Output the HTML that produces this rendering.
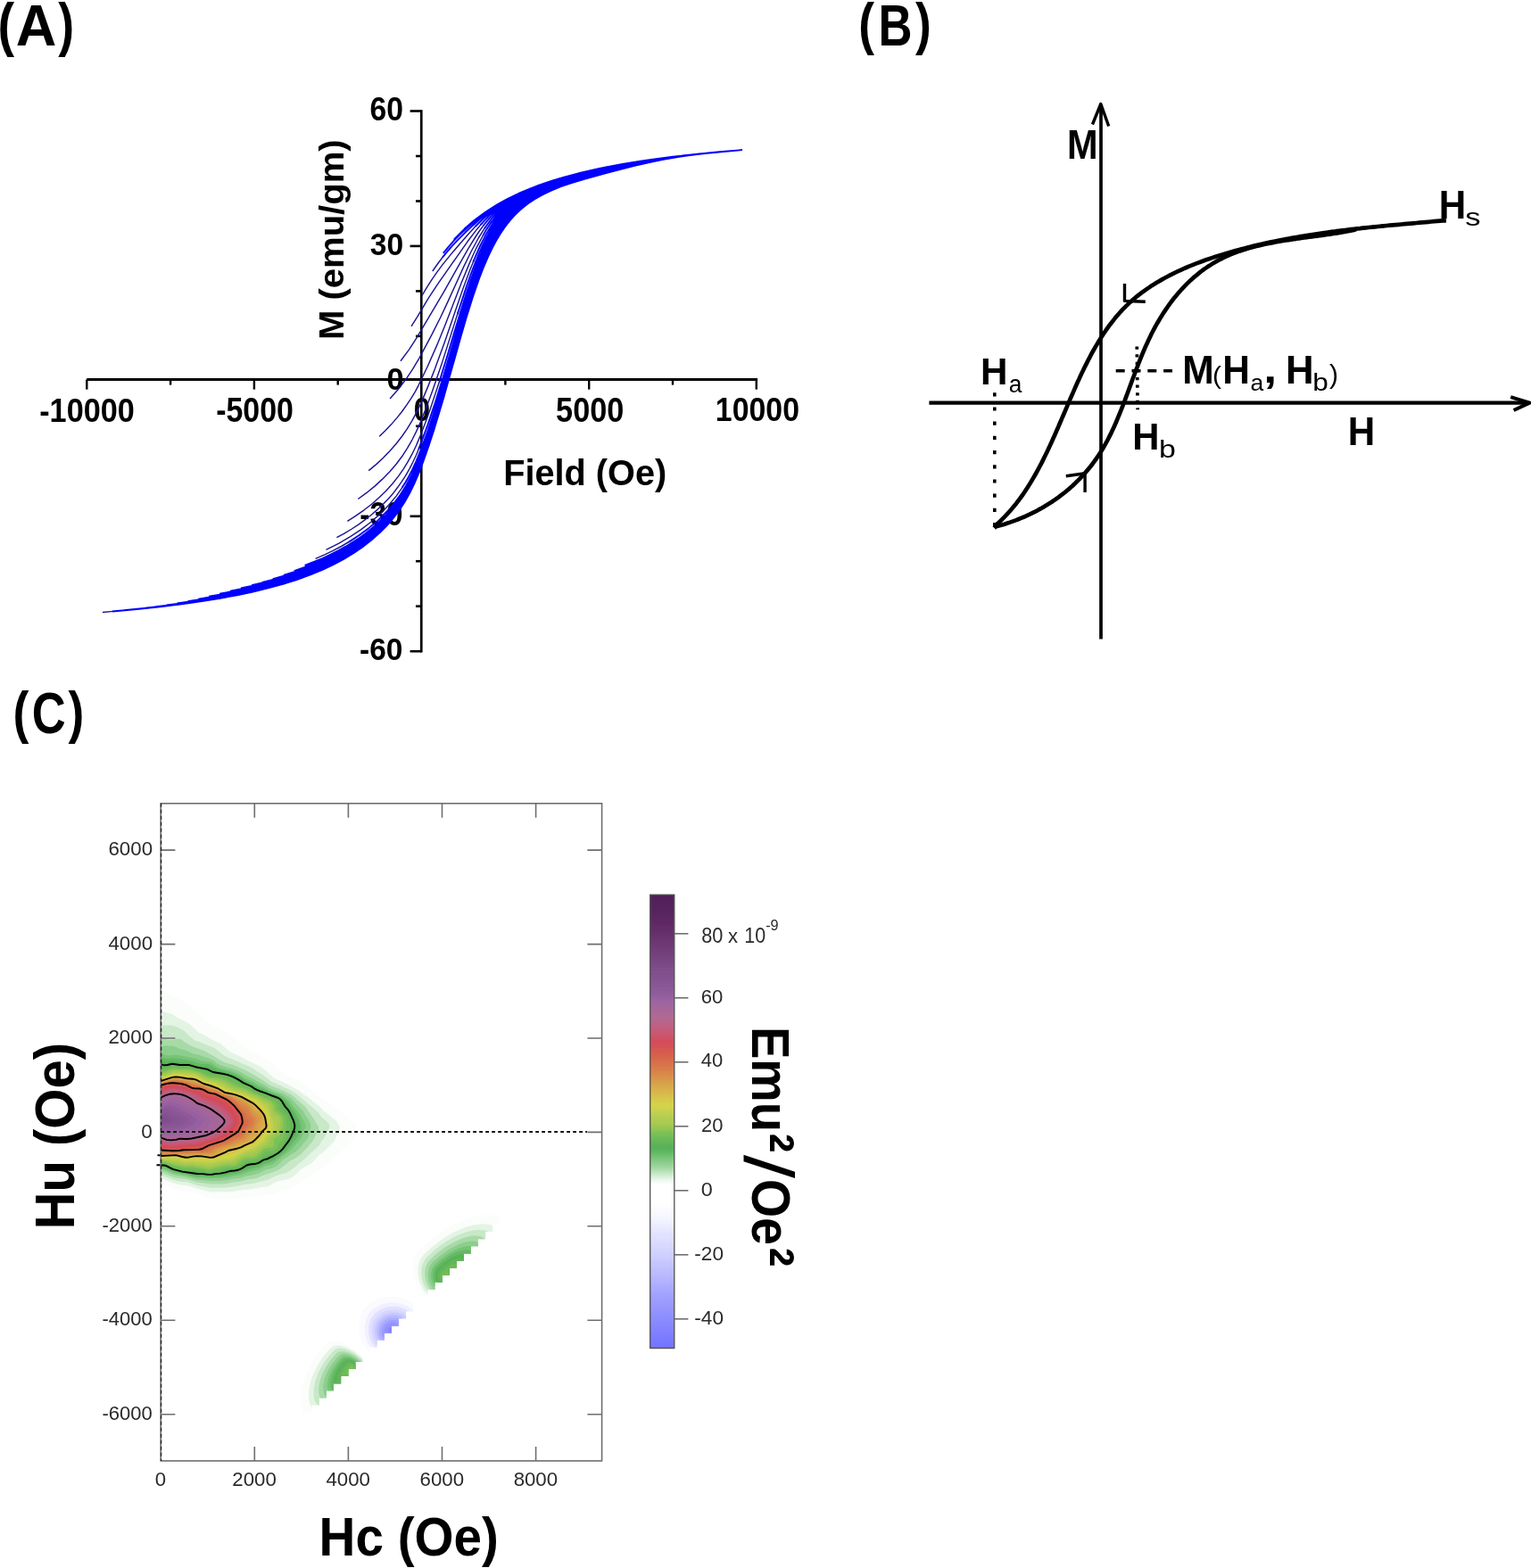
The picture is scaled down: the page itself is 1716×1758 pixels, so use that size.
<!DOCTYPE html>
<html><head><meta charset="utf-8"><title>Figure</title>
<style>html,body{margin:0;padding:0;background:#fff;overflow:hidden}svg{display:block}</style>
</head><body>
<svg xmlns="http://www.w3.org/2000/svg" width="1716" height="1758" viewBox="0 0 1716 1758">
<rect width="1716" height="1758" fill="#fff"/>
<defs><clipPath id="plotclip"><rect x="180.2" y="900.8" width="494.4" height="737.1"/></clipPath><clipPath id="stair"><path d="M82.4 1700 L82.4 1850.9 L82.4 1842.8 L90.5 1842.8 L90.5 1834.7 L98.6 1834.7 L98.6 1826.6 L106.7 1826.6 L106.7 1818.5 L114.8 1818.5 L114.8 1810.4 L122.9 1810.4 L122.9 1802.3 L131 1802.3 L131 1794.2 L139.1 1794.2 L139.1 1786.1 L147.2 1786.1 L147.2 1778 L155.3 1778 L155.3 1769.9 L163.4 1769.9 L163.4 1761.8 L171.5 1761.8 L171.5 1753.7 L179.6 1753.7 L179.6 1745.6 L187.7 1745.6 L187.7 1737.5 L195.8 1737.5 L195.8 1729.4 L203.9 1729.4 L203.9 1721.3 L212 1721.3 L212 1713.2 L220.1 1713.2 L220.1 1705.1 L228.2 1705.1 L228.2 1697 L236.3 1697 L236.3 1688.9 L244.4 1688.9 L244.4 1680.8 L252.5 1680.8 L252.5 1672.7 L260.6 1672.7 L260.6 1664.6 L268.7 1664.6 L268.7 1656.5 L276.8 1656.5 L276.8 1648.4 L284.9 1648.4 L284.9 1640.3 L293 1640.3 L293 1632.2 L301.1 1632.2 L301.1 1624.1 L309.2 1624.1 L309.2 1616 L317.3 1616 L317.3 1607.9 L325.4 1607.9 L325.4 1599.8 L333.5 1599.8 L333.5 1591.7 L341.6 1591.7 L341.6 1583.6 L349.7 1583.6 L349.7 1575.5 L357.8 1575.5 L357.8 1567.4 L365.9 1567.4 L365.9 1559.3 L374 1559.3 L374 1551.2 L382.1 1551.2 L382.1 1543.1 L390.2 1543.1 L390.2 1535 L398.3 1535 L398.3 1526.9 L406.4 1526.9 L406.4 1518.8 L414.5 1518.8 L414.5 1510.7 L422.6 1510.7 L422.6 1502.6 L430.7 1502.6 L430.7 1494.5 L438.8 1494.5 L438.8 1486.4 L446.9 1486.4 L446.9 1478.3 L455 1478.3 L455 1470.2 L463.1 1470.2 L463.1 1462.1 L471.2 1462.1 L471.2 1454 L479.3 1454 L479.3 1445.9 L487.4 1445.9 L487.4 1437.8 L495.5 1437.8 L495.5 1429.7 L503.6 1429.7 L503.6 1421.6 L511.7 1421.6 L511.7 1413.5 L519.8 1413.5 L519.8 1405.4 L527.9 1405.4 L527.9 1397.3 L536 1397.3 L536 1389.2 L544.1 1389.2 L544.1 1381.1 L552.2 1381.1 L552.2 1373 L560.3 1373 L560.3 1364.9 L568.4 1364.9 L568.4 1356.8 L576.5 1356.8 L576.5 1348.7 L584.6 1348.7 L584.6 1340.6 L592.7 1340.6 L592.7 1332.5 L600.8 1332.5 L600.8 1324.4 L608.9 1324.4 L608.9 1316.3 L617 1316.3 L617 1308.2 L625.1 1308.2 L625.1 1300.1 L633.2 1300.1 L633.2 1292 L641.3 1292 L641.3 1283.9 L649.4 1283.9 L649.4 1275.8 L657.5 1275.8 L657.5 1267.7 L665.6 1267.7 L665.6 1259.6 L673.7 1259.6 L673.7 1251.5 L681.8 1251.5 L681.8 1243.4 L689.9 1243.4 L689.9 1235.3 L698 1235.3 L698 1227.2 L706.1 1227.2 L706.1 1219.1 L714.2 1219.1 L714.2 1211 L722.3 1211 L722.3 1202.9 L900 1202.9 L900 850 L100 850 L100 1700Z"/></clipPath></defs>
<g clip-path="url(#plotclip)"><g clip-path="url(#stair)" stroke="none">
<path fill="#fafdfa" d="M170.7 1110.5 L173.5 1110.2 L177 1110.4 L181.2 1111.2 L186.8 1112.8 L198 1118 L203.6 1121.1 L209.8 1125.3 L219.4 1133 L228.1 1142.2 L231.6 1145.4 L236.5 1148.3 L243.4 1151.2 L248.6 1154 L258 1160.3 L261.7 1163.6 L268 1167.9 L276.4 1175.4 L286.9 1180.3 L296 1186.7 L305.8 1192.5 L317 1202.7 L322.6 1206.1 L325.4 1207.2 L326.8 1208.3 L327.5 1208.3 L328.9 1209.4 L329.6 1209.3 L331.7 1211 L334.5 1212 L336.6 1213.7 L338 1214.2 L340.1 1216.1 L340.8 1216.1 L344.3 1219 L345.1 1219.1 L349.2 1222 L349.9 1222 L357.6 1228.4 L358.3 1228.4 L366.7 1235.2 L368.3 1236.6 L368.3 1237.3 L370.9 1239.3 L378.6 1244.3 L378.8 1245 L384.6 1248.5 L384.9 1249.4 L385.7 1249.2 L385.7 1249.9 L388.7 1252 L388.7 1252.7 L391.8 1255.5 L391.8 1256.2 L395.1 1258.3 L395.4 1259 L397.6 1260.4 L397.6 1261.1 L399.7 1263.2 L400.4 1265.3 L400.6 1267.4 L400.4 1270.2 L398.6 1274.4 L395.8 1277.2 L395.7 1277.9 L392.7 1280.7 L392.7 1281.4 L389.2 1284.9 L389.1 1285.6 L383.5 1290.5 L377.2 1294.8 L374.7 1298.2 L369.5 1303.2 L367.4 1304.8 L366.7 1304.8 L359 1311.7 L358.3 1311.9 L354.8 1315.1 L349.9 1318.6 L349.2 1318.7 L347.1 1320.4 L346.4 1320.4 L344.3 1321.5 L343.6 1321.5 L340.8 1323.1 L336.6 1326.5 L326.1 1332.5 L321.2 1334.6 L314.9 1336.2 L312.8 1337.1 L310.7 1337.5 L310 1338.1 L307.9 1338.3 L307.2 1338.8 L300.9 1339.6 L300.2 1340.1 L297.4 1340.4 L296.7 1341 L293.2 1341.2 L292.5 1341.7 L275.7 1342.6 L275 1343.1 L270.8 1343.2 L269.9 1343.7 L256.8 1344.4 L250.5 1343.9 L240 1343.8 L239.3 1343.4 L235.8 1343.1 L227.4 1340.8 L216.9 1337.1 L204.3 1335.4 L197.6 1333.9 L191.7 1331.8 L182.6 1327.8 L170 1326.8 L170 1110.5 L170.7 1110.5ZM541 1362.6 L548 1362.2 L554.3 1362.8 L559.2 1364.1 L562.7 1366.1 L679.6 1482.7 L679.6 1644.7 L667.5 1644.7 L475.4 1452.9 L470.3 1446.6 L466.5 1440.3 L464.4 1435.4 L463 1429.8 L462.3 1424.2 L462.5 1419.3 L463.3 1414.4 L464.8 1409.5 L467 1405.3 L470.3 1401 L478.7 1393.2 L487.1 1386.4 L495.5 1380.5 L505.3 1374.7 L515.1 1369.9 L523.5 1366.7 L532.6 1364.1 L541 1362.6ZM371.6 1503.3 L375.1 1503 L378.6 1503.4 L386.3 1505.9 L394.7 1510.8 L403.1 1517.5 L530.8 1644.7 L401 1644.7 L342.2 1586 L340 1582.4 L338.3 1576.8 L337.4 1567.7 L338.2 1557.9 L340.6 1547.4 L344.6 1536.9 L350.5 1525.7 L357.9 1515.2 L366.7 1505.5 L368.8 1504.2 L371.6 1503.3Z"/>
<path fill="#e4f4e4" d="M176.3 1132.9 L179.8 1132.8 L184 1134.6 L193.1 1137.1 L199.4 1141.3 L210.6 1147 L214.8 1150.1 L221.1 1156.5 L223.2 1158.1 L230.9 1161.3 L238.6 1166.3 L247.7 1170.6 L255.4 1177.3 L259.3 1179.9 L270.1 1184.7 L279.9 1190.3 L284.8 1192.3 L290.4 1195.2 L298.1 1200.3 L307.2 1208.7 L312.1 1211.1 L314.2 1211.7 L315.6 1212.7 L316.3 1212.7 L321.2 1215.4 L322.1 1215.6 L324 1217 L324.7 1216.9 L326.1 1217.9 L326.8 1217.9 L331.7 1221.1 L332.4 1221 L334.5 1222.6 L335.2 1222.6 L338.7 1225.7 L339.4 1225.7 L342.9 1228.7 L343.6 1228.7 L351.3 1235.6 L352 1235.5 L356.2 1239.1 L361.2 1243.6 L361.8 1244.7 L370.5 1251.3 L370.7 1252 L375.9 1255.5 L376 1256.2 L378.8 1259 L378.7 1259.7 L380.3 1262.5 L380.7 1265.3 L380.4 1267.4 L376.6 1274.4 L376.7 1275.1 L374.5 1280 L363.9 1290.5 L356.5 1296.1 L350.6 1303 L346.4 1305.9 L340.1 1309.2 L336.6 1311.8 L332.4 1316.2 L328.2 1319.5 L322.6 1322.2 L312.8 1323.9 L307.2 1326.3 L303.7 1328.4 L298.8 1330.6 L291.1 1331.3 L288.3 1332.2 L286.2 1332.3 L283.4 1333.3 L272.9 1333.9 L272.2 1334.3 L265.2 1335 L263.8 1335.5 L258.9 1336.2 L258.2 1335.9 L250.5 1336.4 L246.3 1336 L240.7 1336.6 L236.5 1336.5 L224.6 1333.7 L212 1329.8 L202.9 1328.6 L198.7 1327.6 L191.7 1325.5 L181.9 1321.7 L170 1320 L170 1135.5 L176.3 1132.9ZM538.2 1372.4 L543.1 1372.2 L547.3 1372.7 L550.8 1373.6 L553.6 1375.2 L679.6 1501 L679.6 1644.7 L672.6 1644.7 L478.3 1450.8 L475.5 1447.3 L472.9 1443.1 L470.7 1438.2 L469.3 1433.3 L468.4 1427.7 L468.4 1422.8 L469.2 1417.9 L470.5 1413.7 L472.7 1409.5 L475.2 1406.3 L482.9 1399.1 L490.6 1392.9 L498.3 1387.5 L506.7 1382.6 L515.1 1378.5 L522.8 1375.6 L530.5 1373.5 L538.2 1372.4ZM375.1 1508.7 L377.9 1508.3 L381.4 1508.5 L388.4 1510.5 L396.1 1514.6 L404.5 1521 L528.5 1644.7 L415.9 1644.7 L349.9 1578.8 L348.5 1576.8 L347.1 1573.3 L345.9 1565.6 L346.4 1557.2 L348.4 1548.1 L351.7 1539 L356.8 1529.2 L363 1520.1 L371 1511 L373 1509.5 L375.1 1508.7Z"/>
<path fill="#c8e8c8" d="M179.1 1149.7 L188.9 1149.4 L193.1 1149.7 L198 1151.3 L203.6 1154 L207.1 1156.3 L212.7 1162 L218.3 1166.2 L240 1174.8 L250.2 1182.7 L253.5 1184.8 L266 1189.7 L271.5 1192.5 L279.9 1195.9 L283.4 1197.7 L287.6 1200.9 L295.3 1205.6 L304.3 1212.8 L314.2 1217 L314.9 1217.1 L320.5 1220.1 L321.2 1220.1 L322.6 1221.1 L323.6 1221.2 L325.4 1222.5 L326.1 1222.5 L331 1225.7 L331.7 1225.7 L334.5 1228.4 L335.2 1228.5 L338.7 1232.1 L339.4 1232.2 L342.9 1235.2 L346.4 1238.7 L347.1 1238.9 L356 1246.4 L358.5 1249.2 L358.4 1249.9 L360.4 1252.4 L367.4 1258.3 L369 1260.4 L369.2 1263.9 L368.1 1266.7 L365 1273 L361.1 1278.5 L356.8 1285.6 L356.2 1285.7 L349.2 1292.1 L348.5 1292.2 L344.3 1297.1 L343.6 1297.2 L340.8 1300.3 L340.1 1300.4 L337.3 1303.1 L336.6 1303.3 L334.5 1305.3 L333.8 1305.6 L329.6 1309.5 L328.9 1309.7 L327.5 1311 L326.8 1311.1 L325.4 1312.4 L323.3 1313.3 L321.9 1314.5 L318.4 1315.9 L314.9 1316.5 L310 1318.3 L303.7 1320.9 L300.2 1322.8 L283.4 1327 L274.3 1327.9 L266.6 1329.7 L251.2 1331.8 L242.8 1331.6 L237.2 1332 L221.1 1329 L210.2 1325.5 L202.2 1324.7 L194.5 1323 L181.2 1317.9 L170 1316.4 L170 1152 L179.1 1149.7ZM536.8 1378.7 L543.8 1379.4 L546.6 1380.5 L547.9 1381.5 L679.6 1512.9 L679.6 1644.7 L676.7 1644.7 L480.3 1448.7 L476.4 1443.1 L474.2 1438.2 L473 1434 L472.3 1429.1 L472.3 1424.9 L472.8 1420.7 L474.1 1416.5 L475.9 1412.9 L478.4 1409.5 L485.7 1402.7 L492.7 1397 L500.4 1391.7 L508.1 1387.3 L515.1 1384 L522.8 1381.2 L529.8 1379.5 L536.8 1378.7ZM380 1511.6 L384.9 1512 L391.2 1514.1 L397.5 1517.5 L404.5 1522.9 L526.5 1644.7 L425.6 1644.7 L354.8 1574 L352.7 1570.4 L351.4 1563.5 L351.8 1555.8 L353.6 1547.4 L357.1 1538.3 L362.5 1528.5 L369.2 1519.4 L375.1 1513.3 L377.2 1512.2 L380 1511.6Z"/>
<path fill="#a8daa8" d="M171.4 1163.1 L178.4 1162.9 L185.7 1165.2 L190.3 1165.9 L193.8 1165.8 L199.4 1164.6 L202.2 1165 L211.3 1171 L216.9 1173.7 L228.1 1177.8 L231.6 1179.5 L250.2 1190.4 L253.6 1191.8 L261 1193.8 L276.4 1200.6 L293.2 1210.3 L302.3 1216.4 L307.2 1218.8 L307.9 1218.8 L310.7 1220.2 L311.4 1220.1 L312.8 1221 L313.5 1220.9 L314.9 1221.9 L315.6 1221.8 L316.8 1222.6 L317.7 1222.7 L324 1226.2 L324.7 1226.1 L326.8 1227.8 L328 1228.2 L330.3 1230.5 L331 1230.6 L333.8 1234 L334.5 1234.2 L339.4 1238.6 L340.1 1238.7 L342.1 1240.8 L351.1 1253.4 L353.4 1256.9 L353.4 1257.6 L356.8 1262.5 L357.2 1265.3 L356.7 1267.4 L350.6 1279.3 L345.5 1285.6 L335.9 1295.4 L335.2 1295.6 L333.1 1297.5 L332.4 1297.6 L331 1298.7 L330.3 1298.7 L328.2 1300.2 L327.5 1300.2 L326.1 1301.3 L325.4 1301.3 L324 1302.6 L323.3 1302.8 L321.9 1304.4 L319.8 1305.6 L318.4 1307.3 L316.3 1308.4 L313.5 1310.9 L307.9 1313.6 L292.5 1318.8 L289.7 1320.2 L284.8 1321.6 L277.1 1322.4 L270.8 1324.2 L261.3 1325.5 L253.3 1327.1 L249.1 1327.5 L242.1 1327.2 L236.5 1327.4 L221.1 1325.5 L209.9 1322.2 L196.6 1320.4 L191.7 1319 L181.9 1314.8 L170 1313.1 L170 1163.2 L171.4 1163.1ZM529.8 1385.6 L537 1385.7 L539.6 1386.4 L541.7 1387.8 L679.6 1525.4 L679.6 1642.9 L482.9 1446.5 L480.3 1443.1 L478.5 1439.6 L477.1 1435.4 L476.4 1431.2 L476.2 1427 L476.7 1422.8 L477.7 1419.3 L479.4 1415.8 L481.5 1413 L486.5 1408.1 L492.7 1402.9 L499 1398.3 L505.3 1394.4 L511.6 1391.2 L517.9 1388.6 L524.2 1386.6 L529.8 1385.6ZM381.4 1515.2 L386.3 1515.2 L391.9 1516.9 L397.5 1519.8 L403.1 1523.9 L524.2 1644.7 L435.7 1644.7 L360 1569.1 L358.3 1566.5 L357.2 1561.4 L357.3 1554.4 L358.8 1547.4 L361.6 1539.7 L366.1 1531.3 L371.5 1523.6 L377.9 1516.7 L381.4 1515.2Z"/>
<path fill="#8cce8c" d="M180.5 1172.8 L185.4 1172.4 L193.8 1172.8 L195.9 1173.2 L201.5 1176 L208.5 1177.8 L215.9 1181.3 L223.9 1183.1 L235.1 1187.1 L239.3 1189.1 L244.2 1192.7 L247.7 1194.6 L262.4 1198.8 L268.7 1201.6 L275 1205.4 L283.4 1209.2 L289.7 1213.1 L296 1216.3 L302.3 1220.2 L307.2 1222.4 L307.9 1222.4 L309.3 1223.3 L310 1223.2 L313.3 1224.7 L316.3 1225.6 L317.7 1226.6 L318.7 1226.8 L321.2 1228.2 L322.6 1229.3 L323.7 1229.6 L326.7 1231.7 L328.9 1234.5 L329.6 1234.8 L332.4 1238.6 L333.1 1238.7 L338.7 1244.7 L339.4 1245 L342.4 1250.6 L347.4 1258.3 L348.2 1261.8 L348.2 1265.3 L346.4 1273 L345 1276.2 L341.5 1280.5 L340.8 1280.8 L336.6 1286.7 L335.9 1287 L333.8 1289.5 L333.1 1289.7 L331 1291.7 L330.3 1291.8 L328.2 1293.5 L327.5 1293.6 L317 1300.6 L311.4 1306.2 L308.6 1308.3 L304.4 1310 L297.4 1311.5 L293.2 1314 L289 1315.8 L282.7 1317.3 L282 1317.7 L276.4 1318.6 L270.1 1320.6 L262.4 1321.5 L254.7 1323.1 L246.3 1323.9 L235.8 1323.9 L226 1322.9 L221.1 1322.8 L207.1 1319.3 L193.8 1317.1 L185.4 1313.3 L182.6 1312.4 L170 1310.4 L170 1174.8 L180.5 1172.8ZM524.2 1392 L528.4 1391.5 L531.9 1391.6 L534.7 1392.4 L536 1393.4 L679.6 1536.7 L679.6 1638.4 L485 1444.2 L483.1 1441.7 L481.4 1438.2 L480.3 1434.7 L479.7 1427.7 L481 1421.4 L482.3 1418.6 L484.3 1415.8 L493.6 1407.4 L503.9 1400.2 L514.4 1394.9 L519.3 1393.2 L524.2 1392ZM384.9 1518 L389.1 1518.3 L393.3 1519.7 L398.2 1522.3 L402.4 1525.4 L521.9 1644.7 L444.8 1644.7 L364.6 1564.7 L363.3 1562.8 L362.2 1557.9 L362.4 1552.3 L364 1545.3 L366.8 1538.3 L371.2 1530.6 L377.2 1522.9 L381.4 1518.9 L384.9 1518Z"/>
<path fill="#77c377" d="M170.7 1181.5 L181.2 1181.4 L188.2 1183.6 L195.9 1182.7 L204.3 1183.7 L221.1 1187.6 L226.7 1189.7 L235.1 1190.8 L237.3 1191.8 L244.9 1196.8 L248.7 1198.1 L257.8 1200.2 L265.2 1203.2 L269.4 1205.3 L274.3 1208.6 L282.7 1212.2 L290.4 1217 L294.6 1218.7 L302.3 1223 L303 1223 L305.8 1224.5 L306.5 1224.4 L307.9 1225.4 L308.6 1225.2 L310 1226.1 L310.7 1226 L312 1226.8 L312.8 1226.7 L314.2 1227.7 L314.9 1227.6 L316.3 1228.7 L317.3 1228.9 L324.8 1234.5 L330.3 1242.4 L331.2 1242.9 L334 1246.4 L336.9 1250.6 L341.6 1259 L342.2 1261.1 L342.2 1263.9 L338.5 1274.4 L336.6 1277.3 L333.1 1281.4 L332.4 1281.8 L330.3 1284.6 L329.6 1284.9 L327.5 1287.7 L325.3 1289.8 L320.5 1294 L316.3 1296.6 L309.3 1302.6 L306.5 1304.5 L303.7 1305.7 L297.4 1307.2 L289 1311.6 L282.7 1312.9 L282 1313.5 L279.9 1313.8 L268.7 1317.5 L262.4 1318.3 L255.5 1319.9 L244.2 1321 L235.1 1321.3 L226.7 1320.6 L221.8 1320.7 L217.6 1320 L207.8 1317.5 L194.5 1315.2 L184 1310.6 L170 1308.4 L170 1181.6 L170.7 1181.5ZM520.7 1397.5 L527 1397.1 L529.1 1397.5 L530.6 1398.3 L679.6 1547 L679.6 1634.3 L488.1 1443.1 L485.7 1440.4 L483.4 1434.7 L482.8 1429.1 L483.9 1423.5 L486.6 1418.6 L494.1 1411.6 L503.2 1405 L512.3 1400.2 L520.7 1397.5ZM385.6 1520.7 L389.1 1520.7 L393.3 1521.8 L397.5 1523.8 L401.1 1526.4 L519.7 1644.7 L453.1 1644.7 L367.8 1559.3 L366.8 1555.1 L367 1550.2 L368.3 1544.6 L370.5 1539 L374 1532.7 L378.1 1527.1 L382.8 1522 L385.6 1520.7Z"/>
<path fill="#63ba63" d="M174.2 1185.5 L179.1 1185.1 L186.8 1186.9 L194.5 1186.5 L204.3 1187.5 L213.4 1189 L225.3 1192.7 L232.3 1192.9 L235.1 1193.6 L244.1 1198.8 L258.3 1202.3 L264.5 1204.9 L270.1 1207.9 L275 1211.3 L280.6 1213.4 L290.4 1219.2 L297.4 1222.1 L303 1225 L303.7 1225 L306.5 1226.3 L314.2 1229.1 L315.6 1230.3 L316.3 1230.3 L317.7 1231.7 L318.4 1231.8 L323.4 1236.6 L325.4 1240 L330.7 1247.1 L334.7 1254.1 L336.8 1259.7 L337.5 1263.9 L336.7 1268.8 L334.5 1273.7 L332.4 1276.8 L328.2 1281.4 L321.9 1289.4 L318.4 1292.6 L307.2 1300.8 L303 1303 L296.7 1304.8 L289.7 1308.5 L282.7 1310 L267.3 1315.5 L248.4 1318.8 L235.8 1319.7 L227.4 1319.1 L222.5 1319.2 L218.3 1318.7 L196.6 1314.3 L192.4 1313 L186.1 1309.8 L184 1309.1 L170 1307.2 L170 1186.3 L174.2 1185.5ZM517.9 1401.8 L523.5 1401.2 L525.6 1401.6 L526.9 1402.5 L679.6 1554.9 L679.6 1631.1 L487.8 1439.5 L485.7 1434.7 L485.2 1429.8 L486 1424.9 L488.5 1420.4 L495.5 1413.8 L503.2 1408.3 L510.9 1404.1 L517.9 1401.8ZM386.3 1522.8 L389.1 1522.5 L392.6 1523.1 L396.8 1524.9 L400.3 1527.3 L518 1644.7 L459.4 1644.7 L371.1 1556.5 L370.3 1553.7 L370.3 1549.5 L371.3 1544.6 L373.2 1539.7 L375.8 1534.8 L379.3 1529.6 L384.2 1524.1 L386.3 1522.8Z"/>
<path fill="#59b159" d="M176.3 1188.8 L179.8 1188.8 L186.1 1190.4 L193.8 1189.6 L201.5 1190.8 L212 1191.6 L220.4 1194.2 L225.3 1195.4 L233 1195.9 L242.1 1200.5 L251.9 1202.4 L261.7 1205.6 L267.3 1208.4 L275.7 1213.6 L280.6 1215.6 L289 1220.7 L300.9 1225.3 L302 1226.1 L304.4 1226.7 L305.8 1227.5 L306.6 1227.5 L307.9 1228.3 L308.6 1228.2 L313.3 1230.3 L317.7 1233.7 L322.1 1238.7 L327.5 1246.8 L330.9 1253.4 L333.3 1260.4 L333.9 1264.6 L333.1 1268.1 L330.7 1273 L319.1 1288.9 L315.6 1292.2 L307.9 1297.5 L303 1300.4 L296 1302.6 L289.7 1306 L282 1307.7 L265.9 1313.8 L249.1 1316.9 L236.5 1318.2 L219.7 1317.4 L195.9 1312.8 L192.4 1311.6 L184.7 1307.9 L176.3 1307.1 L170 1306 L170 1191 L176.3 1188.8ZM516.5 1406 L520 1405.7 L521.5 1406 L522.5 1406.7 L679.6 1563.4 L679.6 1627.6 L489.9 1438.2 L488.2 1434.7 L487.7 1429.8 L488.6 1425.6 L490.6 1422.1 L496.6 1416.5 L503.4 1411.6 L510.2 1408 L516.5 1406ZM387.7 1524.9 L390.5 1524.5 L393.3 1525 L396.8 1526.5 L399.7 1528.5 L516.1 1644.7 L466.1 1644.7 L374.5 1553 L373.8 1550.2 L374.1 1546.7 L375 1543.2 L376.6 1539 L378.9 1534.8 L381.9 1530.6 L385.6 1526.4 L387.7 1524.9Z"/>
<path fill="#62b558" d="M177.7 1192.5 L179.8 1192.8 L184 1194.3 L187.5 1194 L193.1 1192.7 L201.5 1194 L211.3 1193.9 L219 1196.2 L232.3 1198.9 L238.6 1202 L249.1 1203.6 L255.2 1205.1 L260.8 1207.2 L265.2 1209.4 L272.9 1214.1 L280.6 1217.5 L288.3 1222.2 L298.8 1225.9 L305.1 1228.7 L305.8 1228.6 L307.2 1229.5 L307.9 1229.3 L311.4 1231.1 L312.1 1231.1 L316.3 1234.8 L319.1 1240.1 L322.6 1244.1 L325 1247.8 L328.1 1254.1 L329.9 1259.7 L330.3 1263.2 L329.8 1266 L326.3 1274.4 L324 1278.6 L318.4 1286.2 L314.9 1290.2 L311.4 1293 L305.1 1296.8 L299.5 1299.3 L293.9 1301.2 L289 1304.1 L286.9 1304.7 L279.9 1305.5 L276.4 1306.5 L270.9 1310.1 L268 1311.4 L263.1 1312.5 L256.1 1313.4 L249.8 1315.2 L235.8 1317 L219 1315.7 L204.3 1313.6 L196.6 1311.8 L192.4 1310.4 L184.7 1306.5 L176.3 1306 L170 1304.8 L170 1195.2 L177.7 1192.5ZM513 1410.9 L515.8 1410.6 L517.9 1411.3 L679.6 1572.7 L679.6 1623.8 L492 1436.6 L490.7 1434 L490.3 1430.5 L491 1427 L492.7 1424 L497.6 1419.4 L502.5 1415.7 L508.1 1412.6 L513 1410.9ZM389.1 1527 L391.2 1526.6 L394 1527 L396.8 1528.2 L398.9 1529.7 L514.1 1644.7 L473.3 1644.7 L378.6 1550.2 L377.9 1548.8 L377.8 1546 L378.5 1542.5 L379.8 1539 L384.2 1532 L387.2 1528.5 L389.1 1527Z"/>
<path fill="#6dbb58" d="M193.1 1195.2 L202.9 1196.1 L211.3 1195.9 L226 1199.8 L229.5 1200.9 L235.1 1203.8 L237.9 1204.7 L247 1205.1 L253.3 1206.5 L262.9 1210.7 L270.8 1215.6 L279.2 1219.1 L285.5 1223.3 L290.4 1225.3 L292.5 1225.6 L293.2 1226.1 L293.9 1226 L297.4 1227.3 L303.6 1230.3 L308.6 1232 L310 1233.1 L310.7 1233.2 L312.6 1235.2 L313.7 1237.3 L314.2 1239.8 L315.5 1242.9 L319.1 1246.2 L322 1249.9 L323.9 1254.1 L326 1262.5 L325.7 1265.3 L322.4 1275.1 L320.6 1278.6 L318.1 1281.4 L314.2 1287.7 L310.7 1291.1 L307.9 1292.7 L305.8 1293.6 L300.2 1294.7 L293.9 1298 L291.1 1300.2 L286.9 1302.3 L277.8 1303.2 L275 1304.1 L272.9 1305.3 L268.7 1308.7 L266.6 1309.8 L263.1 1310.6 L254.7 1310.8 L249.1 1312.9 L241.4 1313.9 L235.1 1315.5 L231.6 1315.1 L227.4 1313.8 L216.9 1312.4 L208.5 1312.4 L204.3 1311.9 L194.5 1309.7 L185.4 1305.4 L177 1304.9 L170 1303.6 L170 1198 L177 1196.6 L182.6 1197.3 L185.4 1197.1 L193.1 1195.2ZM509.5 1416.5 L511.6 1416.4 L512.3 1416.8 L679.6 1583.8 L679.6 1619.3 L494.1 1434.1 L493.3 1431.9 L493.4 1429.8 L494 1427.7 L495.4 1425.6 L502.5 1419.7 L506 1417.7 L509.5 1416.5ZM391.2 1529 L394 1529 L397.5 1530.7 L511.7 1644.7 L481.6 1644.7 L382.7 1546 L382.1 1544.6 L382.3 1542.5 L384 1537.6 L387.7 1532.2 L389.8 1529.9 L391.2 1529Z"/>
<path fill="#7ac058" d="M193.1 1197.4 L202.9 1197.7 L210.6 1197.5 L222.5 1200.4 L235.1 1206.4 L244.2 1206.9 L251.2 1208.5 L253.4 1209.3 L261 1213.7 L265.9 1216 L277.8 1220.4 L284.1 1224.4 L302.6 1231.7 L308.5 1235.2 L310 1237.1 L310.8 1239.4 L311 1241.5 L312.1 1244.3 L317 1248.9 L319.3 1252 L320.2 1254.8 L321.1 1262.5 L320.8 1265.3 L319.6 1268.8 L318.4 1275.1 L316.6 1277.9 L314 1280 L312.3 1282.8 L310.7 1286.9 L309.3 1288.4 L306.5 1289.9 L304.4 1290.4 L299.5 1290.4 L297.7 1291.2 L291.1 1297.2 L289 1298.8 L286.9 1299.8 L283.4 1300.5 L275.7 1301 L273.6 1301.9 L268 1306.4 L265.2 1308 L261 1308.8 L254.7 1308.6 L248.4 1310.6 L242.8 1311.4 L235.1 1313.4 L231.6 1313 L226 1311.4 L216.6 1310.1 L205.7 1310.1 L195.9 1308.2 L184.7 1303.9 L177 1303.7 L170 1302.3 L170 1200.4 L175.6 1199.7 L182.6 1200.2 L193.1 1197.4ZM500.4 1427.6 L501.8 1427.2 L507.3 1432.6 L679.6 1604.7 L679.6 1610.8 L499 1430.5 L498.6 1429.8 L498.8 1429.1 L500.4 1427.6ZM393.3 1531.9 L394.7 1531.9 L396.1 1532.7 L508.3 1644.7 L493.3 1644.7 L388.8 1540.4 L388.3 1539 L389 1536.9 L391.2 1533.7 L393.3 1531.9Z"/>
<path fill="#94c652" d="M191.7 1199.5 L195.2 1198.9 L202.9 1199.3 L209.2 1199 L211.3 1199.3 L221.4 1201.6 L230.9 1206.7 L234.4 1208 L244.2 1208.9 L249.1 1210.3 L252 1211.4 L261.5 1217 L264.5 1218.2 L275 1221.2 L284.1 1226.1 L288.3 1227.5 L296.7 1231.6 L299.2 1232.4 L304.4 1235.3 L307.3 1238.7 L308.2 1242.9 L309.3 1245.6 L313.7 1249.2 L316.2 1252 L317.2 1254.8 L317.4 1258.3 L317.1 1263.9 L315.7 1268.8 L314.5 1271.6 L312.8 1273.6 L309.3 1275.3 L307.5 1277.2 L307 1279.3 L307.5 1282.1 L307.1 1284.2 L305.8 1286.1 L303.7 1287 L303 1286.8 L298.8 1287.4 L296 1288.5 L293.9 1290.2 L290.8 1294 L286.9 1297.1 L283.4 1298.2 L278.5 1298.2 L272.9 1299.3 L268.7 1302.3 L265.9 1305.1 L264.5 1306 L261.7 1306.7 L256.1 1306.4 L253.3 1306.7 L234.4 1311.3 L226.2 1309.4 L221.1 1309 L215.9 1308 L207.1 1308.2 L199.4 1307.1 L195.2 1306.2 L185.4 1302.9 L177 1302.6 L170 1301.1 L170 1202.5 L174.9 1202.1 L181.9 1202.5 L185.4 1201.8 L191.7 1199.5Z"/>
<path fill="#a5c950" d="M192.4 1200.8 L196.6 1200.3 L202.9 1200.7 L208.5 1200.5 L220.4 1202.8 L232.3 1209 L244.2 1211 L251 1213.5 L256.8 1217 L262.4 1219.7 L273.6 1222.5 L280.6 1226.1 L287.6 1228.8 L296.7 1233.7 L299 1234.5 L302.9 1237.3 L304.1 1238.7 L305 1240.8 L306.5 1246.4 L307.5 1247.8 L312.6 1251.3 L313.9 1253.4 L314.5 1255.5 L314.5 1261.1 L314.1 1263.9 L312.8 1267.3 L311.4 1269.3 L305.1 1274.8 L304 1276.5 L303.2 1278.6 L302.5 1282.1 L301.3 1283.5 L294.6 1286.7 L292.4 1288.4 L289.3 1291.9 L286.2 1294.2 L282 1295.5 L275.7 1296 L271.7 1297.5 L268.2 1299.6 L264.5 1302.9 L261.3 1304.5 L253.3 1304.7 L241.4 1307.3 L236.5 1308.8 L233.7 1308.9 L227.4 1307.8 L220.8 1307.3 L214.8 1306.1 L206.4 1306.4 L196.6 1304.7 L184.7 1301.7 L177 1301.5 L170 1300 L170 1204.2 L173.5 1204 L181.9 1204.3 L186.8 1203 L192.4 1200.8Z"/>
<path fill="#afcc50" d="M197.3 1201.6 L207.8 1202.1 L219.7 1204 L230.2 1209.7 L233 1210.6 L238.6 1211.4 L242.8 1212.4 L251.2 1215.8 L257.5 1219.4 L263.1 1221.6 L275 1224.7 L277.8 1226.1 L278.5 1226.8 L284.8 1228.9 L289 1231 L297.2 1235.9 L300.4 1238 L301.7 1239.4 L302.7 1241.5 L304.2 1247.1 L305.1 1249.2 L307 1251.3 L309.3 1252.9 L310.8 1254.8 L311.2 1257.6 L310.9 1262.5 L309.8 1266 L308.6 1268 L302.1 1275.1 L299.3 1280.7 L298.1 1282.1 L293.2 1285.2 L287.6 1289.9 L285.5 1291.3 L283.4 1292.1 L275.7 1293.7 L272.2 1295.2 L266.6 1298.5 L262.4 1301.8 L260.3 1302.7 L251.2 1303.1 L243.5 1304.7 L237.2 1306.5 L233 1306.8 L227.4 1305.8 L220.4 1305.6 L214.8 1304.4 L206.4 1304.8 L186.1 1300.9 L177 1300.6 L170 1298.9 L170 1205.8 L181.9 1205.6 L186.8 1204.4 L193.1 1202 L197.3 1201.6Z"/>
<path fill="#bccf4d" d="M194.5 1203 L197.3 1202.7 L207.1 1203.5 L219 1205.1 L221.1 1205.9 L229.5 1210.7 L233.7 1211.9 L240 1213.1 L248.3 1216.3 L258.2 1221.4 L272.9 1225.4 L279.2 1228.5 L287.6 1231.7 L296.8 1238 L299.7 1240.8 L301.4 1244.3 L303.1 1249.9 L306.2 1256.2 L307.2 1261.8 L307.2 1264.6 L306.5 1266.7 L305.2 1268.8 L300.3 1274.4 L297.4 1279.3 L293.9 1282.6 L286.2 1288 L280.6 1290.4 L279.2 1290.4 L275 1292 L268 1295.4 L262.4 1299.4 L258.9 1300.9 L249.1 1301.5 L237.2 1304.6 L233 1304.8 L226.7 1303.7 L221.8 1304 L214.8 1302.9 L207.1 1303.5 L198.7 1301.5 L184.7 1299.8 L177 1299.6 L170 1297.9 L170 1207.3 L181.9 1206.9 L194.5 1203Z"/>
<path fill="#c9d24a" d="M193.1 1204.4 L197.3 1203.8 L218.3 1206.1 L221.8 1207.5 L229.5 1211.8 L241.4 1215.1 L249.8 1218.7 L254.7 1221.4 L270.8 1226.1 L277.1 1228.9 L286.4 1232.4 L291.2 1235.9 L297.4 1241.5 L299.6 1245 L303.1 1254.8 L304.7 1261.1 L304.8 1265.3 L303.7 1267.9 L299.1 1273 L294.6 1279.3 L286.9 1285.2 L283.4 1287.1 L275.7 1289.8 L266.6 1294.4 L260.9 1298.2 L258.2 1299.1 L248.4 1299.8 L239.3 1302.5 L234.4 1303 L227.4 1301.7 L221.8 1302 L215.5 1301.5 L209.2 1302.2 L206.4 1302 L198 1299.7 L177.7 1298.8 L170 1297 L170 1208.6 L181.9 1208 L193.1 1204.4Z"/>
<path fill="#d4d248" d="M194.5 1205.1 L200.8 1205.1 L219 1207.5 L228.8 1212.6 L238.6 1215.3 L242.8 1216.9 L248.4 1219.3 L254 1222.6 L270.1 1227 L285.5 1233.5 L292 1238.7 L295.9 1242.9 L298.7 1247.1 L300.7 1252.7 L302.9 1261.1 L303.2 1263.2 L303 1265.3 L302.1 1267.4 L297.5 1272.3 L293.9 1277.1 L291.8 1279.3 L285.5 1284.1 L276.4 1287.8 L270.1 1291.2 L264.9 1293.3 L259.6 1296.4 L256.8 1297.1 L247 1298.4 L238.6 1301.1 L233.7 1301.3 L228.1 1300 L224.6 1299.7 L216.2 1300 L207.8 1300.9 L205 1300.4 L198 1298.2 L178.4 1298 L174.9 1297.5 L170 1296.1 L170 1209.8 L181.2 1209.1 L194.5 1205.1Z"/>
<path fill="#d6c848" d="M193.1 1206.4 L195.9 1205.9 L199.4 1206 L218.3 1208.4 L221.8 1209.9 L228.4 1213.5 L236.5 1215.7 L244.9 1218.9 L252.6 1223.3 L270.8 1228.1 L277.1 1231.4 L284.1 1234.3 L288.3 1237.3 L290.5 1239.4 L296.1 1245.7 L298 1249.2 L299.2 1252.7 L301.5 1262.5 L301.4 1264.6 L300.5 1266.7 L288.3 1279.9 L284.1 1283 L276.4 1286.2 L270.1 1289.6 L258.9 1294 L244.9 1297.4 L240.7 1299.1 L237.9 1299.8 L234.4 1299.9 L227.4 1298.5 L222.5 1298.1 L208.5 1299.7 L205 1299.1 L197.3 1296.7 L178.4 1297.3 L174.9 1296.7 L170 1295.3 L170 1210.9 L181.2 1210.1 L193.1 1206.4Z"/>
<path fill="#d8bc48" d="M193.8 1207.2 L196.6 1206.8 L200.1 1206.9 L218.3 1209.4 L228.1 1214.3 L235.1 1216.3 L244.2 1219.6 L252.6 1224.4 L261 1226.1 L270.1 1228.8 L282.8 1235.2 L285.9 1237.3 L289 1240.1 L294.7 1246.4 L296.7 1249.5 L298 1253.4 L299.8 1261.8 L299.7 1263.9 L298.7 1266 L295.3 1269.2 L291.8 1273.6 L287 1278.6 L284.1 1281.1 L282 1282.3 L276.4 1284.6 L268.7 1288.5 L264.5 1289.9 L258.9 1291 L255.7 1292.6 L247 1295.2 L238.6 1298.5 L235.1 1298.7 L228.8 1297.4 L221.1 1296.9 L209.2 1298.5 L205.7 1298.1 L198 1295.6 L179.1 1296.5 L175.6 1296.1 L170 1294.6 L170 1212 L181.2 1211.1 L193.8 1207.2Z"/>
<path fill="#d8b148" d="M195.2 1207.8 L200.8 1207.9 L208.5 1209.4 L215.5 1209.9 L218.3 1210.5 L228.1 1215.3 L235.1 1217.3 L243.5 1220.4 L251.9 1225.1 L260.3 1226.8 L269.4 1229.8 L280.1 1235.2 L284.3 1238 L289.7 1243.1 L295.4 1249.9 L296.7 1253.4 L297.8 1259.7 L298 1261.8 L297.5 1263.9 L296.5 1265.3 L294.5 1266.7 L291.1 1271.6 L289.1 1273.7 L283.4 1279.2 L281.3 1280.6 L269.4 1285.8 L256.3 1289.1 L252.6 1291.2 L246.6 1293.3 L240 1296.9 L235.8 1297.5 L226 1296 L219.7 1295.8 L211.3 1297.2 L208.5 1297.3 L197.3 1294.8 L178.4 1295.7 L175.6 1295.4 L170 1293.8 L170 1213 L181.2 1212 L195.2 1207.8Z"/>
<path fill="#d8a548" d="M195.9 1208.6 L199.4 1208.6 L209.9 1210.6 L217.6 1211.6 L226 1215.4 L242.1 1220.8 L249 1224.7 L251.9 1225.9 L261.7 1228.2 L271.5 1232.2 L281.5 1238 L286.7 1243.6 L291.3 1247.1 L293.9 1249.9 L294.6 1251.3 L295.4 1254.8 L295.2 1261.1 L294.2 1262.5 L291.9 1264.6 L290.1 1269.5 L288.4 1271.6 L282.7 1275.1 L280.1 1277.9 L277.4 1280 L263.8 1285.4 L254.7 1287.7 L250.6 1289.8 L246.3 1291.2 L240.7 1295 L237.9 1296.1 L235.8 1296.3 L230.2 1295.4 L219.7 1294.8 L216.9 1294.9 L211.3 1296.1 L207.1 1296.1 L196.6 1294.2 L178.4 1294.9 L170 1293 L170 1213.8 L181.2 1212.7 L191.7 1209.4 L195.9 1208.6Z"/>
<path fill="#d89948" d="M192.4 1210 L195.2 1209.5 L199.4 1209.5 L217.6 1213 L225.3 1216.1 L242.1 1221.7 L251.2 1226.5 L256.1 1227.5 L261 1229 L270.8 1233.6 L277.8 1237.5 L281.4 1240.8 L285.4 1246.4 L291.3 1250.6 L292.7 1253.4 L292.8 1254.8 L292.3 1256.9 L289.5 1261.1 L287.5 1268.1 L286.5 1269.5 L285.4 1270.2 L281.3 1271.4 L280.1 1272.3 L276.9 1277.2 L274.3 1279.2 L261 1284.5 L256.1 1285.6 L245.6 1289.3 L242.1 1291.5 L239.3 1293.8 L236.5 1294.7 L219 1293.9 L209.2 1295 L196.6 1293.6 L178.4 1294 L170 1292.2 L170 1214.5 L174.2 1213.7 L181.2 1213.2 L192.4 1210Z"/>
<path fill="#d88d48" d="M193.1 1210.6 L197.3 1210.2 L203.6 1211.1 L214.8 1213.7 L229.5 1218.2 L235.8 1220.7 L242.1 1222.6 L247.7 1225.8 L251.2 1227.3 L257.5 1228.8 L260.3 1229.9 L276 1238.7 L279.4 1241.5 L283.4 1248.5 L287.4 1252 L288.3 1253.4 L288.3 1256.2 L285.2 1266 L284.1 1267.3 L280.6 1268.4 L278.8 1269.5 L275 1275.6 L272.2 1277.8 L265.9 1280.2 L260.3 1283 L242.8 1288.2 L239.3 1291.6 L236.5 1293 L228.1 1293.4 L218.3 1293 L210.6 1293.8 L195.9 1293.1 L179.1 1293.2 L175.6 1292.8 L170 1291.5 L170 1215 L174.2 1214.2 L181.2 1213.8 L186.8 1212 L193.1 1210.6Z"/>
<path fill="#d88048" d="M193.1 1211.3 L199.4 1211.2 L205 1212.2 L211.3 1213.9 L216.9 1215.9 L228.1 1218.6 L235.8 1221.8 L241.4 1223.2 L244.7 1224.7 L247.7 1226.6 L251.2 1228.1 L255.4 1229.1 L260.3 1231.1 L263.8 1233.3 L269.4 1238.2 L272.2 1240.2 L275 1241.6 L275.7 1241.5 L277.8 1243.9 L279.7 1247.8 L283.8 1252.7 L284.9 1254.8 L284.9 1258.3 L283.5 1263.2 L281.5 1265.3 L279.2 1266.3 L277.1 1268 L273 1274.4 L270.3 1276.5 L265.2 1278.3 L259.6 1281.3 L256.1 1282.6 L241.4 1287 L236.5 1290.9 L233 1291.9 L228.1 1292.4 L219 1292.1 L210.6 1292.7 L191 1292.7 L177.7 1292.3 L170 1290.8 L170 1215.6 L174.2 1214.8 L181.2 1214.3 L186.1 1212.8 L193.1 1211.3Z"/>
<path fill="#d77648" d="M193.8 1212.1 L198.7 1212.1 L205 1213 L210.6 1214.6 L216.2 1217.1 L228.1 1219.5 L235.1 1222.7 L243.1 1224.7 L247.7 1227.5 L255.4 1230.1 L259.6 1232.1 L265.2 1236.5 L270.1 1242.2 L274.3 1245.6 L276.3 1247.8 L278.3 1251.3 L281.2 1254.8 L281.8 1256.2 L282 1259 L281.3 1261.1 L280.4 1262.5 L275.7 1266.1 L272.2 1272.2 L270.1 1274.3 L267.3 1275.6 L263.1 1276.9 L257.5 1280.1 L251.2 1282.8 L240.7 1285.6 L234.4 1289.5 L230.2 1291 L226 1291.5 L218.3 1291.3 L191.7 1292.2 L177 1291.4 L170 1290.1 L170 1216.2 L174.9 1215.2 L181.2 1214.9 L187.5 1213.1 L193.8 1212.1Z"/>
<path fill="#d76c48" d="M194.5 1212.8 L200.8 1213.2 L205.7 1214 L210.5 1215.6 L215.5 1218 L226.7 1219.9 L234.4 1223.5 L242.5 1225.4 L247.7 1228.3 L258.2 1232.7 L263.8 1237.3 L273.4 1248.5 L275.4 1252.7 L278.4 1257.6 L278.5 1259 L277.8 1261 L274.7 1263.9 L272.7 1266.7 L270.8 1270.6 L268.7 1272.5 L261.7 1275.4 L251.2 1281.2 L238.9 1284.9 L228.8 1289.9 L223.9 1290.5 L207.1 1290.7 L200.8 1291.5 L193.1 1291.8 L177 1290.7 L170 1289.4 L170 1216.8 L174.9 1215.8 L181.2 1215.5 L187.5 1213.7 L194.5 1212.8Z"/>
<path fill="#d66248" d="M188.9 1214.1 L195.2 1213.6 L204.3 1214.6 L208.5 1215.7 L213.4 1218.3 L215.5 1219 L223.9 1220.1 L226.7 1220.8 L233.7 1224.2 L242.1 1226.2 L248.4 1229.5 L253.3 1231.5 L258.2 1234.4 L265.2 1241.2 L270.6 1247.8 L272.3 1251.3 L274.2 1257.6 L274.3 1259 L273.9 1260.4 L271.7 1263.2 L268.9 1268.8 L265.9 1271.4 L261 1273.7 L251.2 1279.6 L235.1 1284.9 L228.1 1288.6 L225.3 1289.3 L205.7 1289.9 L201.5 1290.7 L194.5 1291.1 L177 1290 L170 1288.7 L170 1217.4 L174.9 1216.4 L181.2 1216.1 L188.9 1214.1Z"/>
<path fill="#d5584d" d="M188.9 1214.8 L195.2 1214.5 L203.6 1215.4 L208.5 1216.7 L212.7 1219.2 L216.2 1220.5 L225.3 1221.2 L228.4 1222.6 L233 1225.6 L239.3 1226.3 L242.1 1227.2 L254.7 1233.7 L257.5 1235.8 L263.1 1241.4 L268.6 1248.5 L269.7 1250.6 L270.7 1255.5 L270.6 1259 L266.5 1267.4 L264.5 1269.5 L251.2 1278 L242.1 1281.3 L232.3 1284.2 L227.4 1287.1 L224.6 1288.1 L219.7 1288.5 L209.9 1288.5 L200.8 1289.5 L193.8 1289.8 L181.2 1289 L175.6 1289.1 L170 1288 L170 1218 L175.6 1216.9 L181.2 1216.7 L188.9 1214.8Z"/>
<path fill="#d55053" d="M188.9 1216.3 L194.5 1216.1 L206.4 1217.3 L212.3 1220.5 L214.8 1221.4 L225.3 1223.3 L232.3 1227.6 L234.4 1228.1 L239.3 1228 L241.4 1228.5 L253.3 1235.5 L262 1243.6 L264.9 1247.1 L267.3 1251.3 L268 1254.1 L268 1258.3 L267 1261.1 L264.2 1266 L260.3 1270.1 L251.9 1276 L246 1278.6 L232.3 1282.6 L223.9 1286.7 L221.1 1287 L209.9 1287 L198.7 1288.2 L193.1 1288.5 L181.2 1287.2 L174.2 1287.3 L170 1286.6 L170 1219.2 L174.9 1218 L181.2 1218.1 L188.9 1216.3Z"/>
<path fill="#d3495a" d="M187.5 1218.3 L193.8 1217.8 L205.7 1218.8 L212 1221.8 L223.9 1224.9 L231.6 1229.4 L238.6 1230.6 L242.1 1231.6 L248.4 1235.2 L252.6 1238 L261.7 1246.6 L264.2 1250.6 L265.5 1254.1 L265.7 1257.6 L264.4 1261.1 L261 1266.3 L258.9 1268.7 L255.4 1271.8 L251.9 1274.2 L243.5 1278 L230.9 1281.5 L222.9 1284.9 L218.3 1285.4 L209.9 1285.4 L193.1 1287.2 L188.2 1286.8 L181.2 1285.5 L174.9 1285.7 L170 1284.8 L170 1221.9 L174.9 1220.3 L181.2 1220.2 L187.5 1218.3Z"/>
<path fill="#cd5066" d="M188.9 1219.8 L196.6 1219.5 L202.9 1220.1 L206.4 1220.8 L211.3 1222.8 L222.3 1226.1 L230.2 1230.8 L239.3 1233.4 L247.7 1237.7 L251.9 1240.6 L256.1 1244.3 L258.9 1247.1 L261.3 1250.6 L262.4 1252.7 L263.4 1256.9 L263.1 1259 L262.1 1261.1 L258.2 1266.4 L255.4 1269.3 L252.6 1271.7 L249.1 1273.8 L240 1277.6 L229.5 1280.5 L222.5 1282.9 L219 1283.6 L208.5 1284.1 L196.6 1285.7 L192.4 1285.9 L187.5 1285.3 L181.2 1283.9 L174.2 1283.9 L170 1282.8 L170 1224.2 L174.9 1222.5 L181.2 1222 L188.9 1219.8Z"/>
<path fill="#c75772" d="M190.3 1221.1 L195.9 1220.9 L202.2 1221.5 L213.4 1224.7 L219.7 1226.8 L229.5 1232.4 L238.6 1235.6 L244.9 1238.9 L253.3 1245 L257.5 1249.3 L260.8 1255.5 L261.1 1257.6 L260.5 1259.7 L258.2 1263.2 L254.7 1267.2 L251.9 1269.7 L247.7 1272.4 L243.7 1274.4 L236.5 1277.2 L223.2 1280.9 L216.2 1282.2 L205.7 1282.8 L193.1 1284.5 L188.9 1284.2 L181.2 1282.3 L174.9 1282 L170 1280.4 L170 1226 L174.9 1224.4 L181.2 1223.8 L186.8 1221.9 L190.3 1221.1Z"/>
<path fill="#c05d7c" d="M190.3 1222.6 L195.2 1222.2 L200.8 1222.7 L212.7 1225.8 L220 1228.9 L228.1 1233.7 L232.7 1235.2 L239.3 1238.2 L242.8 1240.2 L248.4 1244.1 L252 1247.1 L256 1251.3 L258.8 1256.2 L258.7 1258.3 L257.8 1260.4 L255.4 1263.5 L251.2 1267.8 L244.2 1272.3 L236.1 1275.8 L222.5 1279.4 L214.1 1280.9 L205.7 1281.2 L195.9 1282.8 L191.7 1283 L186.1 1282.3 L181.2 1280.8 L175.6 1280.2 L170 1278.3 L170 1227.6 L175.6 1225.9 L181.2 1225.3 L186.1 1223.5 L190.3 1222.6Z"/>
<path fill="#b96286" d="M189.6 1224 L195.2 1223.4 L199.4 1223.7 L205 1224.8 L210.6 1226.5 L217.6 1229.5 L226.7 1235 L236.3 1238.7 L244.9 1243.9 L250.5 1248.5 L254 1252 L256.6 1256.2 L256.7 1257.6 L256 1259.7 L251.3 1265.3 L248.1 1268.1 L244.2 1270.6 L238.6 1273.4 L231.7 1275.8 L219 1278.7 L209.9 1279.9 L203.6 1279.9 L195.2 1281.4 L190.3 1281.6 L186.1 1280.9 L181.2 1279.3 L175.6 1278.7 L170 1276.6 L170 1229.2 L175.6 1227.4 L181.2 1226.8 L184.7 1225.3 L189.6 1224Z"/>
<path fill="#b1678e" d="M193.8 1224.7 L201.5 1225.2 L209.9 1227.6 L215.8 1230.3 L223.2 1235.4 L231.6 1238.4 L237.7 1241.5 L244.2 1245.8 L252.1 1252.7 L254.5 1256.2 L254.4 1258.3 L253.6 1259.7 L251.5 1262.5 L248 1266 L244.2 1268.9 L240 1271.2 L234 1273.7 L228.1 1275.4 L215.5 1278.1 L210.6 1278.6 L202.9 1278.5 L195.9 1280 L190.3 1280.2 L185.4 1279.3 L181.2 1277.8 L175.6 1277.2 L170 1274.9 L170 1230.8 L175.6 1228.9 L181.2 1228.2 L187.5 1225.7 L193.8 1224.7Z"/>
<path fill="#aa6694" d="M191.7 1226.1 L198.7 1225.9 L202.2 1226.5 L207.1 1227.9 L215 1231.7 L221.1 1236.3 L228 1238.7 L233.7 1241.3 L240.7 1245.6 L250.4 1253.4 L252.4 1256.2 L252.5 1257.6 L251.9 1259 L247.8 1263.9 L244.2 1267.1 L237.9 1270.8 L228.8 1274.1 L214.1 1277.1 L209.2 1277.5 L202.9 1277.2 L195.2 1278.7 L190.3 1278.9 L185.4 1278 L181.2 1276.4 L176.1 1275.8 L170.8 1273.7 L170 1273.3 L170 1232.3 L175.6 1230.3 L181.2 1229.6 L186.8 1227.2 L191.7 1226.1Z"/>
<path fill="#a4659a" d="M191 1228.9 L198.7 1228.9 L205 1230.6 L210.6 1233.4 L217.6 1238.3 L224.6 1240.8 L230.3 1243.6 L237.2 1248.3 L244.2 1254.1 L245.3 1255.5 L245.4 1257.6 L244.6 1259 L239.3 1264.8 L236.4 1267.4 L232.5 1269.5 L223.2 1272.6 L209.9 1275 L206.4 1275.3 L200.1 1274.9 L195.2 1276.2 L191 1276.6 L185.4 1275.8 L181.2 1274.1 L176.3 1273.5 L172.1 1271.8 L170 1270.5 L170 1235.3 L174.9 1233.1 L181.2 1232.1 L186.1 1230 L191 1228.9Z"/>
<path fill="#9d639f" d="M191.7 1232.4 L197.3 1232.7 L202.2 1234.2 L206.8 1236.6 L212.6 1240.8 L219.7 1243.1 L223.6 1245 L229.6 1249.2 L235.2 1254.1 L236.6 1256.2 L236.1 1258.3 L232.3 1263 L230.2 1264.8 L226.7 1266.9 L219.7 1269.6 L207.8 1272 L202.9 1272.5 L197.3 1272.3 L193.1 1273.4 L188.9 1273.6 L185.4 1273.1 L181.2 1271.5 L176.8 1270.9 L172.8 1269.2 L170 1267.1 L170 1238.8 L175.6 1236 L181.2 1235.2 L184.7 1233.6 L187.5 1232.9 L191.7 1232.4Z"/>
<path fill="#9660a0" d="M185.4 1236.6 L189.6 1236 L193.8 1236.2 L197.3 1237 L201.5 1238.7 L207.7 1242.9 L215.5 1245.8 L220.4 1248.6 L227.4 1254.3 L228.5 1256.2 L228.1 1257.6 L224.6 1261.8 L220.7 1264.6 L214.8 1266.9 L202.9 1269.6 L194.5 1269.7 L191 1270.6 L187.5 1270.7 L184 1270 L181.2 1268.9 L177.7 1268.5 L174.9 1267.5 L172.1 1265.6 L170 1263.4 L170 1242.7 L172.8 1240.6 L175.6 1239.2 L178.4 1238.4 L181.2 1238.2 L185.4 1236.6Z"/>
<path fill="#905a9a" d="M187.5 1239.4 L191.7 1239.6 L195.9 1240.8 L198.8 1242.2 L202.9 1245 L207.1 1246.4 L211.3 1248.5 L215.5 1251.3 L219 1254.3 L219.8 1255.5 L219.7 1257.1 L217 1260.4 L214.1 1262.5 L207.1 1265.3 L200.8 1266.8 L196.6 1267.3 L192.4 1267.1 L186.8 1267.9 L184 1267.5 L181.2 1266.4 L178.4 1266.1 L175.6 1265 L172.1 1262.1 L170.1 1258.3 L170 1247.1 L172.6 1244.3 L175.6 1242.4 L178.4 1241.5 L181.2 1241.2 L184.7 1239.8 L187.5 1239.4Z"/>
<path fill="#8a5696" d="M184.7 1242.8 L188.2 1242.6 L191.7 1243.3 L194.5 1244.6 L198.1 1247.1 L204.3 1249.3 L207.4 1251.3 L210.8 1254.1 L211.9 1255.5 L211.6 1256.9 L208.5 1260.1 L205 1262.2 L201.5 1263.4 L195.9 1264.5 L190.3 1264.6 L185.4 1265.2 L177 1263.1 L175.1 1261.8 L173.5 1260 L172.4 1257.6 L172 1255.5 L170.3 1254.8 L171 1251.3 L172.8 1248.2 L175.6 1245.7 L177.7 1244.7 L181.2 1244.1 L184.7 1242.8Z"/>
<path fill="#875493" d="M182.6 1246.3 L186.1 1245.8 L189.6 1246.6 L193.6 1249.2 L197.5 1250.6 L202.2 1253.4 L204 1254.8 L204.4 1255.5 L204.3 1256.2 L202.6 1258.3 L200.7 1259.7 L196.6 1261.1 L192.4 1261.9 L184 1262.5 L178.4 1261.2 L175.6 1259 L174.8 1257.6 L174.3 1255.5 L173.1 1254.8 L173.5 1252.7 L174.5 1250.6 L176.5 1248.5 L178.4 1247.5 L181.2 1246.9 L182.6 1246.3Z"/>
<path fill="#83508f" d="M182.6 1249.1 L185.4 1249.1 L187.5 1249.9 L189.5 1251.3 L192.5 1252.7 L195.4 1254.8 L195.8 1255.5 L195.4 1256.2 L192.7 1258.3 L187.6 1259.7 L182.6 1259.9 L179.1 1259 L177.4 1257.6 L176.6 1255.5 L175.8 1254.8 L176.1 1253.4 L177 1251.7 L178.2 1250.6 L182.6 1249.1Z"/>
<path fill="#7f4d8b" d="M180.5 1252.5 L182.6 1252 L184 1252.4 L187.1 1254.1 L188 1254.8 L188.1 1255.5 L187.5 1256.2 L185.4 1257.1 L181.9 1257.4 L180.5 1257.1 L179.2 1256.2 L178.4 1254.8 L179.1 1253.3 L180.5 1252.5Z"/>
<path fill="#fbfbff" d="M436.7 1453.6 L444.4 1454 L452.1 1455.7 L459.1 1458.6 L465.2 1462.7 L647.6 1644.7 L542.2 1644.7 L412.9 1515.7 L410.2 1512.4 L407.5 1508.2 L405.5 1504 L403.6 1498.4 L402.6 1493.5 L402.2 1488.6 L402.4 1483.7 L403.1 1478.8 L404.4 1474.6 L406.3 1470.4 L408.6 1466.9 L411.1 1464.1 L414.3 1461.3 L418.5 1458.5 L422.7 1456.5 L426.9 1455.1 L431.8 1454 L436.7 1453.6Z"/>
<path fill="#f0f0ff" d="M434.6 1460.6 L441.6 1460.3 L449.3 1461.4 L456.3 1463.9 L461.2 1467.1 L639.1 1644.7 L549.4 1644.7 L416.8 1512.4 L414.1 1508.9 L412.2 1505.4 L410.5 1501.2 L408.8 1492.8 L408.6 1488.6 L409 1484.4 L410.9 1477.4 L412.7 1473.9 L414.7 1471.1 L419.9 1466.3 L423.4 1464.2 L426.9 1462.6 L434.6 1460.6Z"/>
<path fill="#e1e1ff" d="M438.1 1464.8 L443.7 1464.8 L449.3 1465.9 L454.2 1467.7 L458.3 1470.4 L632.9 1644.7 L554.9 1644.7 L419.5 1509.6 L417.4 1506.8 L414.5 1500.5 L413 1492.8 L413.3 1485.8 L414.2 1482.3 L415.6 1478.8 L419.2 1473.5 L424.7 1469 L431.1 1466.1 L438.1 1464.8Z"/>
<path fill="#d6d6ff" d="M440.2 1468.3 L444.4 1468.5 L448.6 1469.3 L452.8 1470.9 L455.6 1472.8 L627.8 1644.7 L559.5 1644.7 L420.3 1505.4 L417.7 1499.8 L416.4 1492.8 L416.9 1486.5 L417.8 1483 L419.1 1480.2 L422.7 1475.5 L427.6 1471.8 L433.9 1469.2 L440.2 1468.3Z"/>
<path fill="#c9c9ff" d="M437.4 1471.7 L442.3 1471.4 L446.5 1472 L450.7 1473.4 L453.5 1475.2 L623.3 1644.7 L563.6 1644.7 L422.8 1504 L420.7 1499.8 L419.5 1494.2 L419.6 1488.6 L421 1483.7 L423.6 1479.5 L427.6 1475.7 L432.5 1473.1 L437.4 1471.7Z"/>
<path fill="#babaff" d="M438.1 1474.6 L442.3 1474.3 L445.8 1474.8 L449.3 1476 L451.4 1477.4 L619 1644.7 L567.4 1644.7 L425.1 1502.6 L423.3 1499.1 L422.2 1494.2 L422.4 1489.3 L423.7 1485.1 L426.2 1481.1 L429.5 1478.1 L433.9 1475.7 L438.1 1474.6Z"/>
<path fill="#ababff" d="M438.8 1477.3 L444.5 1477.4 L447.2 1478.2 L449.3 1479.5 L614.8 1644.7 L571.3 1644.7 L426.9 1500.5 L425.5 1497.5 L424.8 1493.5 L425.2 1489.3 L426.5 1485.8 L428.3 1483 L431.5 1480.2 L435.3 1478.2 L438.8 1477.3Z"/>
<path fill="#9d9dff" d="M439.5 1480.1 L443.7 1480.2 L445.8 1480.9 L447.2 1481.9 L610.3 1644.7 L575.3 1644.7 L429.4 1499.1 L428.2 1497 L427.6 1493.5 L427.9 1490 L428.9 1487.2 L431 1484.4 L433.2 1482.5 L436 1481 L439.5 1480.1Z"/>
<path fill="#9292ff" d="M438.1 1483.6 L441.6 1483.2 L443.6 1483.7 L444.6 1484.4 L605.2 1644.7 L579.9 1644.7 L431.8 1496.9 L431 1495.6 L430.6 1493.5 L430.7 1491.4 L431.4 1489.3 L432.5 1487.4 L434 1485.8 L438.1 1483.6Z"/>
<path fill="#8686ff" d="M438.8 1487.8 L440.2 1487.8 L440.9 1488.3 L597.6 1644.7 L586.8 1644.7 L435.3 1493.5 L434.9 1492.1 L435.6 1490 L437 1488.6 L438.8 1487.8Z"/>
</g></g>
<g clip-path="url(#plotclip)"><path d="M170 1195.2 L175.6 1193 L177.7 1192.5 L179.8 1192.8 L182.3 1193.9 L184 1194.3 L187.5 1194 L193.1 1192.7 L201.5 1194 L211.3 1193.9 L219 1196.2 L232.3 1198.9 L238.6 1202 L251.9 1204.3 L255.2 1205.1 L260.8 1207.2 L266.6 1210.1 L272.9 1214.1 L280.6 1217.5 L283.4 1219.1 L284.8 1220.4 L288.3 1222.2 L289.7 1222.6 L291.8 1223.7 L293.9 1224 L294.6 1224.6 L298.8 1225.9 L299.5 1226.4 L302.3 1227.3 L305.1 1228.7 L305.8 1228.6 L307.2 1229.5 L307.9 1229.3 L309.3 1230.2 L310.3 1230.3 L311.4 1231.1 L312.1 1231.1 L314.7 1233.1 L315.6 1234.4 L316.3 1234.8 L317.4 1237.3 L318.1 1238 L319.1 1240.1 L322.6 1244.1 L325 1247.8 L328.9 1256.3 L330.2 1261.1 L330.3 1263.2 L329.6 1266.7 L326.3 1274.4 L324 1278.6 L316.7 1288.4 L314.9 1290.2 L311.4 1293 L305.1 1296.8 L304.4 1296.9 L299.5 1299.3 L296.7 1300 L293.9 1301.2 L291.1 1303.1 L289 1304.1 L286.9 1304.7 L279.9 1305.5 L276.4 1306.5 L270.9 1310.1 L266.6 1311.8 L263.1 1312.5 L259.6 1312.7 L256.1 1313.4 L253.3 1314.4 L247 1315.6 L241.4 1316.1 L237.2 1316.9 L233 1316.9 L227.4 1316.1 L221.1 1316 L204.3 1313.6 L193.8 1310.9 L185.4 1306.7 L175.6 1305.9 L170 1304.8 M170 1212.7 L181.2 1211.7 L193.1 1207.9 L196.6 1207.4 L200.8 1207.6 L209.9 1209.2 L216.9 1209.8 L219.9 1210.7 L228.1 1215 L235.1 1217 L244.9 1220.7 L251.9 1224.9 L258.9 1226.2 L263.8 1227.4 L270.8 1229.9 L283.1 1236.6 L285.9 1238.7 L292.5 1245.3 L295 1248.5 L296.5 1251.3 L297.5 1254.8 L298.6 1261.8 L298.3 1263.9 L297.5 1265.3 L295 1267.4 L290.7 1273 L285.2 1278.6 L282.6 1280.7 L274.3 1284.1 L270.1 1286.4 L265.9 1287.7 L256.8 1289.7 L254 1291 L253.3 1291.7 L239.3 1297.5 L235.8 1297.9 L226 1296.4 L220.4 1296.1 L216.2 1296.6 L211.3 1297.6 L208.5 1297.7 L204.3 1297 L197.3 1295.1 L179.1 1296.1 L174.9 1295.5 L170 1294.1 M170 1217.8 L174.9 1216.8 L181.2 1216.5 L187 1214.9 L191.7 1214.3 L195.2 1214.2 L202.9 1215 L208.3 1216.3 L214.8 1219.6 L217.6 1220.2 L223.2 1220.5 L225.3 1221 L228.1 1221.9 L233.7 1225.1 L241.4 1226.6 L254.7 1233.2 L257.5 1235.2 L262.4 1239.6 L268.9 1247.8 L270.3 1249.9 L271.2 1253.4 L271.8 1257.6 L271.5 1259.7 L267.7 1267.4 L265.7 1269.5 L263.8 1270.9 L251.2 1278.5 L248.4 1279.7 L234 1284.2 L226 1288.3 L223.2 1288.7 L216.2 1289.1 L205.7 1289.2 L200.8 1290 L193.8 1290.2 L175.6 1289.3 L170 1288.2 M170 1233 L174.8 1231 L178.1 1230.3 L181.2 1230.1 L185.3 1228.2 L189.7 1226.8 L195.2 1226.3 L197.3 1226.4 L201.7 1226.8 L204.5 1227.5 L208.5 1228.9 L212.6 1231 L217 1233.8 L221.1 1237 L229.9 1240.1 L236.5 1243.6 L246.4 1250.6 L249.5 1253.4 L251.3 1255.5 L251.7 1256.9 L251.2 1259 L248.4 1262.3 L242.7 1267.4 L239.3 1269.5 L230.9 1273 L214.8 1276.5 L209.2 1277 L201.5 1276.7 L197.3 1277.9 L191 1278.4 L186.7 1277.9 L181.2 1275.9 L178.9 1275.8 L175.4 1275.1 L171.9 1273.7 L170 1272.6" fill="none" stroke="#000" stroke-width="1.9" stroke-linejoin="round"/></g>
<path d="M175.5 1306.3 H181 M176.5 1295.3 H181" stroke="#000" stroke-width="1.9"/>
<g fill="none" stroke="#6e6e6e" stroke-width="1.6">
<rect x="180.2" y="900.8" width="494.4" height="737.1"/>
<path d="M285.3 900.8 V916.8 M285.3 1637.9 V1621.9"/>
<path d="M390.4 900.8 V916.8 M390.4 1637.9 V1621.9"/>
<path d="M495.5 900.8 V916.8 M495.5 1637.9 V1621.9"/>
<path d="M600.6 900.8 V916.8 M600.6 1637.9 V1621.9"/>
<path d="M180.2 953.1 H196.4 M674.6 953.1 H658.4"/>
<path d="M180.2 1058.6 H196.4 M674.6 1058.6 H658.4"/>
<path d="M180.2 1164 H196.4 M674.6 1164 H658.4"/>
<path d="M180.2 1269.4 H196.4 M674.6 1269.4 H658.4"/>
<path d="M180.2 1374.8 H196.4 M674.6 1374.8 H658.4"/>
<path d="M180.2 1480.2 H196.4 M674.6 1480.2 H658.4"/>
<path d="M180.2 1585.7 H196.4 M674.6 1585.7 H658.4"/>
</g>
<path d="M180.6 900.8 V1637.9" stroke="#222" stroke-width="1.4" stroke-dasharray="4 3"/>
<path d="M180.2 1269 H658" stroke="#111" stroke-width="1.9" stroke-dasharray="3.8 3.2"/>
<g stroke="none">
<rect x="728.7" y="1003.2" width="27.1" height="2.6" fill="#4c1a55"/>
<rect x="728.7" y="1005.2" width="27.1" height="2.6" fill="#4d1b56"/>
<rect x="728.7" y="1007.2" width="27.1" height="2.6" fill="#4e1c57"/>
<rect x="728.7" y="1009.2" width="27.1" height="2.6" fill="#4f1c58"/>
<rect x="728.7" y="1011.2" width="27.1" height="2.6" fill="#501d59"/>
<rect x="728.7" y="1013.2" width="27.1" height="2.6" fill="#511e5a"/>
<rect x="728.7" y="1015.2" width="27.1" height="2.6" fill="#521e5a"/>
<rect x="728.7" y="1017.2" width="27.1" height="2.6" fill="#531f5b"/>
<rect x="728.7" y="1019.2" width="27.1" height="2.6" fill="#54205c"/>
<rect x="728.7" y="1021.2" width="27.1" height="2.6" fill="#55205d"/>
<rect x="728.7" y="1023.2" width="27.1" height="2.6" fill="#56215e"/>
<rect x="728.7" y="1025.2" width="27.1" height="2.6" fill="#57225f"/>
<rect x="728.7" y="1027.2" width="27.1" height="2.6" fill="#582260"/>
<rect x="728.7" y="1029.2" width="27.1" height="2.6" fill="#592361"/>
<rect x="728.7" y="1031.2" width="27.1" height="2.6" fill="#5a2461"/>
<rect x="728.7" y="1033.2" width="27.1" height="2.6" fill="#5b2462"/>
<rect x="728.7" y="1035.2" width="27.1" height="2.6" fill="#5c2563"/>
<rect x="728.7" y="1037.2" width="27.1" height="2.6" fill="#5d2764"/>
<rect x="728.7" y="1039.2" width="27.1" height="2.6" fill="#5f2866"/>
<rect x="728.7" y="1041.2" width="27.1" height="2.6" fill="#602967"/>
<rect x="728.7" y="1043.2" width="27.1" height="2.6" fill="#612b68"/>
<rect x="728.7" y="1045.2" width="27.1" height="2.6" fill="#632c6a"/>
<rect x="728.7" y="1047.2" width="27.1" height="2.6" fill="#642d6b"/>
<rect x="728.7" y="1049.2" width="27.1" height="2.6" fill="#652f6c"/>
<rect x="728.7" y="1051.2" width="27.1" height="2.6" fill="#67306e"/>
<rect x="728.7" y="1053.2" width="27.1" height="2.6" fill="#68326f"/>
<rect x="728.7" y="1055.2" width="27.1" height="2.6" fill="#693370"/>
<rect x="728.7" y="1057.2" width="27.1" height="2.6" fill="#6a3472"/>
<rect x="728.7" y="1059.2" width="27.1" height="2.6" fill="#6c3673"/>
<rect x="728.7" y="1061.2" width="27.1" height="2.6" fill="#6d3875"/>
<rect x="728.7" y="1063.2" width="27.1" height="2.6" fill="#6e3976"/>
<rect x="728.7" y="1065.2" width="27.1" height="2.6" fill="#6f3b78"/>
<rect x="728.7" y="1067.2" width="27.1" height="2.6" fill="#713c79"/>
<rect x="728.7" y="1069.2" width="27.1" height="2.6" fill="#723e7b"/>
<rect x="728.7" y="1071.2" width="27.1" height="2.6" fill="#733f7d"/>
<rect x="728.7" y="1073.2" width="27.1" height="2.6" fill="#74417e"/>
<rect x="728.7" y="1075.2" width="27.1" height="2.6" fill="#764280"/>
<rect x="728.7" y="1077.2" width="27.1" height="2.6" fill="#774481"/>
<rect x="728.7" y="1079.2" width="27.1" height="2.6" fill="#784583"/>
<rect x="728.7" y="1081.2" width="27.1" height="2.6" fill="#794785"/>
<rect x="728.7" y="1083.2" width="27.1" height="2.6" fill="#7b4886"/>
<rect x="728.7" y="1085.2" width="27.1" height="2.6" fill="#7c4a88"/>
<rect x="728.7" y="1087.2" width="27.1" height="2.6" fill="#7d4b89"/>
<rect x="728.7" y="1089.3" width="27.1" height="2.6" fill="#7e4c8a"/>
<rect x="728.7" y="1091.3" width="27.1" height="2.6" fill="#804d8c"/>
<rect x="728.7" y="1093.3" width="27.1" height="2.6" fill="#814e8d"/>
<rect x="728.7" y="1095.3" width="27.1" height="2.6" fill="#824f8e"/>
<rect x="728.7" y="1097.3" width="27.1" height="2.6" fill="#845190"/>
<rect x="728.7" y="1099.3" width="27.1" height="2.6" fill="#855291"/>
<rect x="728.7" y="1101.3" width="27.1" height="2.6" fill="#865392"/>
<rect x="728.7" y="1103.3" width="27.1" height="2.6" fill="#875493"/>
<rect x="728.7" y="1105.3" width="27.1" height="2.6" fill="#895595"/>
<rect x="728.7" y="1107.3" width="27.1" height="2.6" fill="#8a5696"/>
<rect x="728.7" y="1109.3" width="27.1" height="2.6" fill="#8b5797"/>
<rect x="728.7" y="1111.3" width="27.1" height="2.6" fill="#8d5999"/>
<rect x="728.7" y="1113.3" width="27.1" height="2.6" fill="#8f5a9a"/>
<rect x="728.7" y="1115.3" width="27.1" height="2.6" fill="#925c9c"/>
<rect x="728.7" y="1117.3" width="27.1" height="2.6" fill="#955e9e"/>
<rect x="728.7" y="1119.3" width="27.1" height="2.6" fill="#9760a0"/>
<rect x="728.7" y="1121.3" width="27.1" height="2.6" fill="#9a62a2"/>
<rect x="728.7" y="1123.3" width="27.1" height="2.6" fill="#9c63a0"/>
<rect x="728.7" y="1125.3" width="27.1" height="2.6" fill="#9f639e"/>
<rect x="728.7" y="1127.3" width="27.1" height="2.6" fill="#a1649c"/>
<rect x="728.7" y="1129.3" width="27.1" height="2.6" fill="#a4659a"/>
<rect x="728.7" y="1131.3" width="27.1" height="2.6" fill="#a66598"/>
<rect x="728.7" y="1133.3" width="27.1" height="2.6" fill="#a96696"/>
<rect x="728.7" y="1135.3" width="27.1" height="2.6" fill="#ab6794"/>
<rect x="728.7" y="1137.3" width="27.1" height="2.6" fill="#ad6792"/>
<rect x="728.7" y="1139.3" width="27.1" height="2.6" fill="#b06890"/>
<rect x="728.7" y="1141.3" width="27.1" height="2.6" fill="#b3668d"/>
<rect x="728.7" y="1143.3" width="27.1" height="2.6" fill="#b5648a"/>
<rect x="728.7" y="1145.3" width="27.1" height="2.6" fill="#b86286"/>
<rect x="728.7" y="1147.3" width="27.1" height="2.6" fill="#bb6083"/>
<rect x="728.7" y="1149.3" width="27.1" height="2.6" fill="#be5e80"/>
<rect x="728.7" y="1151.3" width="27.1" height="2.6" fill="#c15c7c"/>
<rect x="728.7" y="1153.3" width="27.1" height="2.6" fill="#c35a79"/>
<rect x="728.7" y="1155.3" width="27.1" height="2.6" fill="#c65875"/>
<rect x="728.7" y="1157.3" width="27.1" height="2.6" fill="#c85670"/>
<rect x="728.7" y="1159.3" width="27.1" height="2.6" fill="#ca536c"/>
<rect x="728.7" y="1161.3" width="27.1" height="2.6" fill="#cc5167"/>
<rect x="728.7" y="1163.3" width="27.1" height="2.6" fill="#cf4e63"/>
<rect x="728.7" y="1165.3" width="27.1" height="2.6" fill="#d14c5e"/>
<rect x="728.7" y="1167.3" width="27.1" height="2.6" fill="#d3495a"/>
<rect x="728.7" y="1169.3" width="27.1" height="2.6" fill="#d44a57"/>
<rect x="728.7" y="1171.3" width="27.1" height="2.6" fill="#d44d55"/>
<rect x="728.7" y="1173.3" width="27.1" height="2.6" fill="#d55152"/>
<rect x="728.7" y="1175.3" width="27.1" height="2.6" fill="#d55450"/>
<rect x="728.7" y="1177.3" width="27.1" height="2.6" fill="#d5574e"/>
<rect x="728.7" y="1179.3" width="27.1" height="2.6" fill="#d65b4c"/>
<rect x="728.7" y="1181.3" width="27.1" height="2.6" fill="#d65e49"/>
<rect x="728.7" y="1183.3" width="27.1" height="2.6" fill="#d66148"/>
<rect x="728.7" y="1185.3" width="27.1" height="2.6" fill="#d66548"/>
<rect x="728.7" y="1187.3" width="27.1" height="2.6" fill="#d76948"/>
<rect x="728.7" y="1189.3" width="27.1" height="2.6" fill="#d76c48"/>
<rect x="728.7" y="1191.3" width="27.1" height="2.6" fill="#d77048"/>
<rect x="728.7" y="1193.3" width="27.1" height="2.6" fill="#d77448"/>
<rect x="728.7" y="1195.3" width="27.1" height="2.6" fill="#d87848"/>
<rect x="728.7" y="1197.3" width="27.1" height="2.6" fill="#d87b48"/>
<rect x="728.7" y="1199.3" width="27.1" height="2.6" fill="#d87f48"/>
<rect x="728.7" y="1201.3" width="27.1" height="2.6" fill="#d88448"/>
<rect x="728.7" y="1203.3" width="27.1" height="2.6" fill="#d88848"/>
<rect x="728.7" y="1205.3" width="27.1" height="2.6" fill="#d88d48"/>
<rect x="728.7" y="1207.3" width="27.1" height="2.6" fill="#d89248"/>
<rect x="728.7" y="1209.3" width="27.1" height="2.6" fill="#d89648"/>
<rect x="728.7" y="1211.3" width="27.1" height="2.6" fill="#d89b48"/>
<rect x="728.7" y="1213.3" width="27.1" height="2.6" fill="#d89f48"/>
<rect x="728.7" y="1215.3" width="27.1" height="2.6" fill="#d8a448"/>
<rect x="728.7" y="1217.3" width="27.1" height="2.6" fill="#d8a848"/>
<rect x="728.7" y="1219.3" width="27.1" height="2.6" fill="#d8ad48"/>
<rect x="728.7" y="1221.3" width="27.1" height="2.6" fill="#d8b148"/>
<rect x="728.7" y="1223.3" width="27.1" height="2.6" fill="#d8b548"/>
<rect x="728.7" y="1225.3" width="27.1" height="2.6" fill="#d8ba48"/>
<rect x="728.7" y="1227.3" width="27.1" height="2.6" fill="#d8be48"/>
<rect x="728.7" y="1229.3" width="27.1" height="2.6" fill="#d8c248"/>
<rect x="728.7" y="1231.3" width="27.1" height="2.6" fill="#d7c648"/>
<rect x="728.7" y="1233.3" width="27.1" height="2.6" fill="#d6ca48"/>
<rect x="728.7" y="1235.3" width="27.1" height="2.6" fill="#d5ce48"/>
<rect x="728.7" y="1237.3" width="27.1" height="2.6" fill="#d4d248"/>
<rect x="728.7" y="1239.3" width="27.1" height="2.6" fill="#d2d349"/>
<rect x="728.7" y="1241.3" width="27.1" height="2.6" fill="#cdd24a"/>
<rect x="728.7" y="1243.3" width="27.1" height="2.6" fill="#c8d14b"/>
<rect x="728.7" y="1245.3" width="27.1" height="2.6" fill="#c3d04c"/>
<rect x="728.7" y="1247.3" width="27.1" height="2.6" fill="#becf4d"/>
<rect x="728.7" y="1249.3" width="27.1" height="2.6" fill="#b9ce4e"/>
<rect x="728.7" y="1251.3" width="27.1" height="2.6" fill="#b4cd4f"/>
<rect x="728.7" y="1253.3" width="27.1" height="2.6" fill="#b0cc50"/>
<rect x="728.7" y="1255.3" width="27.1" height="2.6" fill="#accb50"/>
<rect x="728.7" y="1257.3" width="27.1" height="2.6" fill="#a8ca50"/>
<rect x="728.7" y="1259.4" width="27.1" height="2.6" fill="#a5c950"/>
<rect x="728.7" y="1261.4" width="27.1" height="2.6" fill="#a1c850"/>
<rect x="728.7" y="1263.4" width="27.1" height="2.6" fill="#99c751"/>
<rect x="728.7" y="1265.4" width="27.1" height="2.6" fill="#90c553"/>
<rect x="728.7" y="1267.4" width="27.1" height="2.6" fill="#86c355"/>
<rect x="728.7" y="1269.4" width="27.1" height="2.6" fill="#7dc157"/>
<rect x="728.7" y="1271.4" width="27.1" height="2.6" fill="#76bf58"/>
<rect x="728.7" y="1273.4" width="27.1" height="2.6" fill="#72bd58"/>
<rect x="728.7" y="1275.4" width="27.1" height="2.6" fill="#6dbb58"/>
<rect x="728.7" y="1277.4" width="27.1" height="2.6" fill="#69b858"/>
<rect x="728.7" y="1279.4" width="27.1" height="2.6" fill="#65b658"/>
<rect x="728.7" y="1281.4" width="27.1" height="2.6" fill="#60b458"/>
<rect x="728.7" y="1283.4" width="27.1" height="2.6" fill="#5cb258"/>
<rect x="728.7" y="1285.4" width="27.1" height="2.6" fill="#58b058"/>
<rect x="728.7" y="1287.4" width="27.1" height="2.6" fill="#5bb35b"/>
<rect x="728.7" y="1289.4" width="27.1" height="2.6" fill="#5eb65e"/>
<rect x="728.7" y="1291.4" width="27.1" height="2.6" fill="#63b963"/>
<rect x="728.7" y="1293.4" width="27.1" height="2.6" fill="#6abd6a"/>
<rect x="728.7" y="1295.4" width="27.1" height="2.6" fill="#72c172"/>
<rect x="728.7" y="1297.4" width="27.1" height="2.6" fill="#79c579"/>
<rect x="728.7" y="1299.4" width="27.1" height="2.6" fill="#81c881"/>
<rect x="728.7" y="1301.4" width="27.1" height="2.6" fill="#88cc88"/>
<rect x="728.7" y="1303.4" width="27.1" height="2.6" fill="#8fd08f"/>
<rect x="728.7" y="1305.4" width="27.1" height="2.6" fill="#97d397"/>
<rect x="728.7" y="1307.4" width="27.1" height="2.6" fill="#a0d7a0"/>
<rect x="728.7" y="1309.4" width="27.1" height="2.6" fill="#aadbaa"/>
<rect x="728.7" y="1311.4" width="27.1" height="2.6" fill="#b4deb4"/>
<rect x="728.7" y="1313.4" width="27.1" height="2.6" fill="#bee3be"/>
<rect x="728.7" y="1315.4" width="27.1" height="2.6" fill="#c9e8c9"/>
<rect x="728.7" y="1317.4" width="27.1" height="2.6" fill="#d3eed3"/>
<rect x="728.7" y="1319.4" width="27.1" height="2.6" fill="#ddf2dd"/>
<rect x="728.7" y="1321.4" width="27.1" height="2.6" fill="#e8f5e8"/>
<rect x="728.7" y="1323.4" width="27.1" height="2.6" fill="#f2f9f2"/>
<rect x="728.7" y="1325.4" width="27.1" height="2.6" fill="#fafdfa"/>
<rect x="728.7" y="1327.4" width="27.1" height="2.6" fill="#ffffff"/>
<rect x="728.7" y="1329.4" width="27.1" height="2.6" fill="#ffffff"/>
<rect x="728.7" y="1331.4" width="27.1" height="2.6" fill="#ffffff"/>
<rect x="728.7" y="1333.4" width="27.1" height="2.6" fill="#ffffff"/>
<rect x="728.7" y="1335.4" width="27.1" height="2.6" fill="#ffffff"/>
<rect x="728.7" y="1337.4" width="27.1" height="2.6" fill="#ffffff"/>
<rect x="728.7" y="1339.4" width="27.1" height="2.6" fill="#ffffff"/>
<rect x="728.7" y="1341.4" width="27.1" height="2.6" fill="#ffffff"/>
<rect x="728.7" y="1343.4" width="27.1" height="2.6" fill="#ffffff"/>
<rect x="728.7" y="1345.4" width="27.1" height="2.6" fill="#ffffff"/>
<rect x="728.7" y="1347.4" width="27.1" height="2.6" fill="#ffffff"/>
<rect x="728.7" y="1349.4" width="27.1" height="2.6" fill="#fefeff"/>
<rect x="728.7" y="1351.4" width="27.1" height="2.6" fill="#fdfdff"/>
<rect x="728.7" y="1353.4" width="27.1" height="2.6" fill="#fcfcff"/>
<rect x="728.7" y="1355.4" width="27.1" height="2.6" fill="#fbfbff"/>
<rect x="728.7" y="1357.4" width="27.1" height="2.6" fill="#f9f9ff"/>
<rect x="728.7" y="1359.4" width="27.1" height="2.6" fill="#f8f8ff"/>
<rect x="728.7" y="1361.4" width="27.1" height="2.6" fill="#f7f7ff"/>
<rect x="728.7" y="1363.4" width="27.1" height="2.6" fill="#f6f6ff"/>
<rect x="728.7" y="1365.4" width="27.1" height="2.6" fill="#f4f4ff"/>
<rect x="728.7" y="1367.4" width="27.1" height="2.6" fill="#f3f3ff"/>
<rect x="728.7" y="1369.4" width="27.1" height="2.6" fill="#f0f0ff"/>
<rect x="728.7" y="1371.4" width="27.1" height="2.6" fill="#eeeeff"/>
<rect x="728.7" y="1373.4" width="27.1" height="2.6" fill="#ececff"/>
<rect x="728.7" y="1375.4" width="27.1" height="2.6" fill="#eaeaff"/>
<rect x="728.7" y="1377.4" width="27.1" height="2.6" fill="#e8e8ff"/>
<rect x="728.7" y="1379.4" width="27.1" height="2.6" fill="#e5e5ff"/>
<rect x="728.7" y="1381.4" width="27.1" height="2.6" fill="#e3e3ff"/>
<rect x="728.7" y="1383.4" width="27.1" height="2.6" fill="#e2e2ff"/>
<rect x="728.7" y="1385.4" width="27.1" height="2.6" fill="#e0e0ff"/>
<rect x="728.7" y="1387.4" width="27.1" height="2.6" fill="#dfdfff"/>
<rect x="728.7" y="1389.4" width="27.1" height="2.6" fill="#ddddff"/>
<rect x="728.7" y="1391.4" width="27.1" height="2.6" fill="#dbdbff"/>
<rect x="728.7" y="1393.4" width="27.1" height="2.6" fill="#dadaff"/>
<rect x="728.7" y="1395.4" width="27.1" height="2.6" fill="#d8d8ff"/>
<rect x="728.7" y="1397.4" width="27.1" height="2.6" fill="#d7d7ff"/>
<rect x="728.7" y="1399.4" width="27.1" height="2.6" fill="#d5d5ff"/>
<rect x="728.7" y="1401.4" width="27.1" height="2.6" fill="#d3d3ff"/>
<rect x="728.7" y="1403.4" width="27.1" height="2.6" fill="#d2d2ff"/>
<rect x="728.7" y="1405.4" width="27.1" height="2.6" fill="#d0d0ff"/>
<rect x="728.7" y="1407.4" width="27.1" height="2.6" fill="#ceceff"/>
<rect x="728.7" y="1409.4" width="27.1" height="2.6" fill="#ccccff"/>
<rect x="728.7" y="1411.4" width="27.1" height="2.6" fill="#cacaff"/>
<rect x="728.7" y="1413.4" width="27.1" height="2.6" fill="#c8c8ff"/>
<rect x="728.7" y="1415.4" width="27.1" height="2.6" fill="#c6c6ff"/>
<rect x="728.7" y="1417.4" width="27.1" height="2.6" fill="#c4c4ff"/>
<rect x="728.7" y="1419.4" width="27.1" height="2.6" fill="#c2c2ff"/>
<rect x="728.7" y="1421.4" width="27.1" height="2.6" fill="#c0c0ff"/>
<rect x="728.7" y="1423.4" width="27.1" height="2.6" fill="#bebeff"/>
<rect x="728.7" y="1425.4" width="27.1" height="2.6" fill="#bcbcff"/>
<rect x="728.7" y="1427.5" width="27.1" height="2.6" fill="#babaff"/>
<rect x="728.7" y="1429.5" width="27.1" height="2.6" fill="#b8b8ff"/>
<rect x="728.7" y="1431.5" width="27.1" height="2.6" fill="#b6b6ff"/>
<rect x="728.7" y="1433.5" width="27.1" height="2.6" fill="#b4b4ff"/>
<rect x="728.7" y="1435.5" width="27.1" height="2.6" fill="#b2b2ff"/>
<rect x="728.7" y="1437.5" width="27.1" height="2.6" fill="#b0b0ff"/>
<rect x="728.7" y="1439.5" width="27.1" height="2.6" fill="#adadff"/>
<rect x="728.7" y="1441.5" width="27.1" height="2.6" fill="#ababff"/>
<rect x="728.7" y="1443.5" width="27.1" height="2.6" fill="#a9a9ff"/>
<rect x="728.7" y="1445.5" width="27.1" height="2.6" fill="#a7a7ff"/>
<rect x="728.7" y="1447.5" width="27.1" height="2.6" fill="#a5a5ff"/>
<rect x="728.7" y="1449.5" width="27.1" height="2.6" fill="#a3a3ff"/>
<rect x="728.7" y="1451.5" width="27.1" height="2.6" fill="#a1a1ff"/>
<rect x="728.7" y="1453.5" width="27.1" height="2.6" fill="#9f9fff"/>
<rect x="728.7" y="1455.5" width="27.1" height="2.6" fill="#9e9eff"/>
<rect x="728.7" y="1457.5" width="27.1" height="2.6" fill="#9c9cff"/>
<rect x="728.7" y="1459.5" width="27.1" height="2.6" fill="#9b9bff"/>
<rect x="728.7" y="1461.5" width="27.1" height="2.6" fill="#9999ff"/>
<rect x="728.7" y="1463.5" width="27.1" height="2.6" fill="#9797ff"/>
<rect x="728.7" y="1465.5" width="27.1" height="2.6" fill="#9696ff"/>
<rect x="728.7" y="1467.5" width="27.1" height="2.6" fill="#9494ff"/>
<rect x="728.7" y="1469.5" width="27.1" height="2.6" fill="#9393ff"/>
<rect x="728.7" y="1471.5" width="27.1" height="2.6" fill="#9191ff"/>
<rect x="728.7" y="1473.5" width="27.1" height="2.6" fill="#8f8fff"/>
<rect x="728.7" y="1475.5" width="27.1" height="2.6" fill="#8e8eff"/>
<rect x="728.7" y="1477.5" width="27.1" height="2.6" fill="#8c8cff"/>
<rect x="728.7" y="1479.5" width="27.1" height="2.6" fill="#8b8bff"/>
<rect x="728.7" y="1481.5" width="27.1" height="2.6" fill="#8989ff"/>
<rect x="728.7" y="1483.5" width="27.1" height="2.6" fill="#8888ff"/>
<rect x="728.7" y="1485.5" width="27.1" height="2.6" fill="#8686ff"/>
<rect x="728.7" y="1487.5" width="27.1" height="2.6" fill="#8484ff"/>
<rect x="728.7" y="1489.5" width="27.1" height="2.6" fill="#8383ff"/>
<rect x="728.7" y="1491.5" width="27.1" height="2.6" fill="#8181ff"/>
<rect x="728.7" y="1493.5" width="27.1" height="2.6" fill="#8080ff"/>
<rect x="728.7" y="1495.5" width="27.1" height="2.6" fill="#7e7eff"/>
<rect x="728.7" y="1497.5" width="27.1" height="2.6" fill="#7d7dff"/>
<rect x="728.7" y="1499.5" width="27.1" height="2.6" fill="#7b7bff"/>
<rect x="728.7" y="1501.5" width="27.1" height="2.6" fill="#7a7aff"/>
<rect x="728.7" y="1503.5" width="27.1" height="2.6" fill="#7878ff"/>
<rect x="728.7" y="1505.5" width="27.1" height="2.6" fill="#7676ff"/>
<rect x="728.7" y="1507.5" width="27.1" height="2.6" fill="#7575ff"/>
<rect x="728.7" y="1509.5" width="27.1" height="2.6" fill="#7373ff"/>
</g>
<rect x="728.7" y="1003.2" width="27.1" height="508.3" fill="none" stroke="#505050" stroke-width="1.3"/>
<g stroke="#6e6e6e" stroke-width="1.6">
<path d="M755.8 1046.8 H771.4"/>
<path d="M755.8 1118.8 H771.4"/>
<path d="M755.8 1190.8 H771.4"/>
<path d="M755.8 1262.8 H771.4"/>
<path d="M755.8 1334.8 H771.4"/>
<path d="M755.8 1406.8 H771.4"/>
<path d="M755.8 1478.8 H771.4"/>
</g>
<g font-family="'Liberation Sans', Arial, Helvetica, sans-serif"><text transform="matrix(0.976 0 0 1.069 357.594 1743.878)" font-size="58" font-weight="bold" fill="#000">Hc (Oe)</text>
<text transform="matrix(1.074 0 0 1.001 83.011 1378.506) rotate(-90)" font-size="58" font-weight="bold" fill="#000">Hu (Oe)</text>
<text transform="matrix(1.033 0 0 0.941 842.8 1150.937) rotate(90)" font-size="58" font-weight="bold" fill="#000">Emu</text>
<text transform="matrix(1.314 0 0 1.112 836.714 1270.775) rotate(90)" font-size="58" font-weight="bold" fill="#000">²</text>
<text transform="matrix(1.027 0 0 1.238 834.127 1294.8) rotate(90)" font-size="76" font-weight="normal" fill="#000">/</text>
<text transform="matrix(1.055 0 0 0.957 842.8 1321.929) rotate(90)" font-size="58" font-weight="bold" fill="#000">Oe</text>
<text transform="matrix(1.314 0 0 1.112 836.714 1398.775) rotate(90)" font-size="58" font-weight="bold" fill="#000">²</text>
<text transform="matrix(0.946 0 0 1.006 786.154 1057.1)" font-size="23" font-weight="normal" fill="#2a2a2a">80</text>
<text transform="matrix(0.96 0 0 0.992 816.04 1057.1)" font-size="23" font-weight="normal" fill="#2a2a2a">x</text>
<text transform="matrix(0.935 0 0 1.006 834.33 1057.1)" font-size="23" font-weight="normal" fill="#2a2a2a">10</text>
<text transform="matrix(1.164 0 0 1.15 858.136 1042.9)" font-size="14" font-weight="normal" fill="#2a2a2a">-9</text>
<text transform="matrix(0.962 0 0 0.994 785.738 1124.7)" font-size="23" font-weight="normal" fill="#2a2a2a">60</text>
<text transform="matrix(0.958 0 0 0.994 785.842 1196.4)" font-size="23" font-weight="normal" fill="#2a2a2a">40</text>
<text transform="matrix(0.954 0 0 0.988 785.946 1268.7)" font-size="23" font-weight="normal" fill="#2a2a2a">20</text>
<text transform="matrix(1.018 0 0 0.994 785.782 1340.8)" font-size="23" font-weight="normal" fill="#2a2a2a">0</text>
<text transform="matrix(0.984 0 0 0.994 778.316 1412.8)" font-size="23" font-weight="normal" fill="#2a2a2a">-20</text>
<text transform="matrix(0.984 0 0 0.994 778.316 1484.5)" font-size="23" font-weight="normal" fill="#2a2a2a">-40</text>
<text transform="matrix(0.971 0 0 0.988 121.429 959.24)" font-size="23" font-weight="normal" fill="#2a2a2a">6000</text>
<text transform="matrix(0.971 0 0 0.988 121.429 1064.66)" font-size="23" font-weight="normal" fill="#2a2a2a">4000</text>
<text transform="matrix(0.971 0 0 0.988 121.429 1170.08)" font-size="23" font-weight="normal" fill="#2a2a2a">2000</text>
<text transform="matrix(0.982 0 0 0.988 158.218 1275.5)" font-size="23" font-weight="normal" fill="#2a2a2a">0</text>
<text transform="matrix(0.958 0 0 0.988 114.442 1380.92)" font-size="23" font-weight="normal" fill="#2a2a2a">-2000</text>
<text transform="matrix(0.958 0 0 0.988 114.442 1486.34)" font-size="23" font-weight="normal" fill="#2a2a2a">-4000</text>
<text transform="matrix(0.958 0 0 0.988 114.442 1591.76)" font-size="23" font-weight="normal" fill="#2a2a2a">-6000</text>
<text transform="matrix(0.964 0 0 0.941 173.636 1666)" font-size="23" font-weight="normal" fill="#2a2a2a">0</text>
<text transform="matrix(0.967 0 0 0.941 260.333 1666)" font-size="23" font-weight="normal" fill="#2a2a2a">2000</text>
<text transform="matrix(0.967 0 0 0.941 365.433 1666)" font-size="23" font-weight="normal" fill="#2a2a2a">4000</text>
<text transform="matrix(0.967 0 0 0.941 470.533 1666)" font-size="23" font-weight="normal" fill="#2a2a2a">6000</text>
<text transform="matrix(0.967 0 0 0.941 575.633 1666)" font-size="23" font-weight="normal" fill="#2a2a2a">8000</text></g>
<g stroke="#000" stroke-width="2.6" fill="none" stroke-linecap="butt">
<path d="M472.3 123.2 V731.5"/>
<path d="M459.6 124.5 H472.3"/>
<path d="M459.6 275.9 H472.3"/>
<path d="M459.6 578.8 H472.3"/>
<path d="M459.6 730.2 H472.3"/>
<path d="M466 175 H472.3"/>
<path d="M466 225.5 H472.3"/>
<path d="M466 326.4 H472.3"/>
<path d="M466 376.9 H472.3"/>
<path d="M466 477.8 H472.3"/>
<path d="M466 528.3 H472.3"/>
<path d="M466 629.2 H472.3"/>
<path d="M466 679.7 H472.3"/>
<path d="M97.3 425.5 H849.1" stroke-width="3"/>
<path d="M97.3 425.5 V436.6" stroke-width="2.4"/>
<path d="M284.9 425.5 V436.6" stroke-width="2.4"/>
<path d="M660.2 425.5 V436.6" stroke-width="2.4"/>
<path d="M847.8 425.5 V436.6" stroke-width="2.4"/>
<path d="M191.1 425.5 V431.6" stroke-width="2.4"/>
<path d="M378.7 425.5 V431.6" stroke-width="2.4"/>
<path d="M566.4 425.5 V431.6" stroke-width="2.4"/>
<path d="M754 425.5 V431.6" stroke-width="2.4"/>
</g>
<g font-family="'Liberation Sans', Arial, Helvetica, sans-serif"><text transform="matrix(0.991 0 0 1.07 414.609 134.6)" font-size="34" font-weight="bold" fill="#000">60</text>
<text transform="matrix(0.989 0 0 1.057 414.711 286.3)" font-size="34" font-weight="bold" fill="#000">30</text>
<text transform="matrix(1.013 0 0 1.035 433.387 436.8)" font-size="34" font-weight="bold" fill="#000">0</text>
<text transform="matrix(0.979 0 0 1.061 403.321 588.8)" font-size="34" font-weight="bold" fill="#000">-30</text>
<text transform="matrix(0.985 0 0 1.009 403.015 739.9)" font-size="34" font-weight="bold" fill="#000">-60</text>
<text transform="matrix(0.978 0 0 1.075 44.222 472.6)" font-size="35" font-weight="bold" fill="#000">-10000</text>
<text transform="matrix(0.969 0 0 1.083 242.131 472.7)" font-size="35" font-weight="bold" fill="#000">-5000</text>
<text transform="matrix(0.941 0 0 1.042 463.659 472.3)" font-size="35" font-weight="bold" fill="#000">0</text>
<text transform="matrix(0.979 0 0 1.083 623.121 472.7)" font-size="35" font-weight="bold" fill="#000">5000</text>
<text transform="matrix(0.967 0 0 1.062 801.866 472.4)" font-size="35" font-weight="bold" fill="#000">10000</text>
<text transform="matrix(1.018 0 0 1.031 564.245 543.756)" font-size="39" font-weight="bold" fill="#000">Field (Oe)</text>
<text transform="matrix(0.974 0 0 0.989 384.711 381.068) rotate(-90)" font-size="40.5" font-weight="bold" fill="#000">M (emu/gm)</text></g>
<g id="panelA">
<path d="M114.9 686.5 L127.1 685.4 M353.6 626.3 L363.9 621.9 L373.3 617.4 L382.6 612.5 L392 607 M365.5 616.3 L379.5 609.3 L392.7 601.7 L404.8 593.6 L416.1 585 L426.4 575.9 L435.7 566.3 L444.2 556.1 L451.7 545.4 M377.4 602.7 L385.9 598.1 L394.3 593 L401.8 588.1 L409.3 582.7 L416.8 576.8 L423.3 571.1 L429.9 564.8 L435.5 558.9 L441.2 552.4 L445.8 546.3 L450.5 539.7 L454.3 533.8 L459 525.6 L462.7 518.3 L466.5 510.2 L470.2 501.3 M389.4 584.3 L398.7 578.4 L408.1 571.8 L416.6 565.2 L425 557.8 L432.5 550.5 L440 542.2 L446.6 533.9 L452.2 525.8 L456.9 518.2 L461.6 509.7 L466.3 500 L470.9 489.1 L476.6 474.4 L482.2 458.8 L493.4 424.9 M401.3 559.5 L410.7 552.7 L420 545.1 L428.4 537.4 L436.9 528.8 L444.4 520 L450.9 511.3 L456.5 502.6 L462.1 492.8 L466.8 483.4 L471.5 472.7 L479 453.8 L484.6 438.6 L494.9 408.6 L513.6 349.5 M413.2 527.6 L421.7 520.6 L429.1 513.7 L436.6 506 L444.1 497.5 L450.7 489 L456.3 480.9 L461.9 471.6 L466.6 462.9 L470.4 455.1 L475.1 444.4 L480.7 430.9 L487.2 414.2 L498.5 383.2 L519.1 323.2 L526.6 303 L531.3 291.4 M425.2 489.3 L431.7 483 L438.3 476.1 L444.8 468.6 L450.5 461.5 L456.1 453.7 L460.8 446.6 L465.5 438.8 L469.2 431.8 L479.5 410.3 L489.8 386.9 L499.2 363.8 L517 317.6 L525.5 296.9 L530.1 286.2 L534.8 276.3 L542.3 262.3 M437.1 447.1 L446.5 436.3 L454.9 425.3 L462.4 414.2 L469.9 401.7 L484 375.2 L493.4 356.5 L501.8 338.6 L519.6 299.4 L528.1 282 L536.5 266.5 L544 254.6 M449 404.8 L458.4 392.1 L466.8 379.1 L497.7 326.8 L524.9 278.7 L533.3 265 L537 259.5 L542.7 251.8 M461 365.9 L467.5 355.6 L479.7 335.1 L490 319.4 L523.7 271.3 L533.1 258.9 L539.7 250.9 M472.9 331.5 L478.5 322.1 L484.1 313.3 L489.8 305.1 L496.3 296.4 L504.8 285.9 L515.1 273.7 L525.4 261.9 L533.8 252.8 M484.8 304 L490.4 296 L497 287.3" fill="none" stroke="#1c1496" stroke-width="1.45" stroke-linejoin="round"/>
<path d="M126.1 685.5 L153.3 683 L179.6 680.2 L203 677.3 L225.5 674.1 L246.1 670.8 L265.8 667.2 L284.6 663.2 L301.4 659.1 L317.4 654.7 L332.4 650 L346.4 644.9 L360.5 639.2 L373.6 633 L385.8 626.5 L397 619.6 L407.3 612.5 L416.7 605.1 L426.1 596.8 L433.6 589.2 L441.1 580.5 L447.7 571.8 L453.3 563.2 L458.9 553.3 L464.5 541.9 L469.2 530.9 L473.9 518.6 L480.5 499.9 L487 479.8 L497.3 445.5 L515.1 382.1 L522.6 356.3 L530.1 332.3 L537.6 310.8 L542.3 298.7 L547 287.8 L551.7 278 L556.4 269.3 L561.1 261.5 L566.7 253.3 L571.4 247.3 L577 241 L583.6 234.8 L591.1 228.7 L599.5 223 L607.9 218.3 L617.3 213.8 L628.6 209.2 L640.7 205 L655.7 200.5 L681.1 193.6 L710.1 186.1 L728.9 181.7 L745.7 178.4 L763.5 175.4 L782.3 172.9 L804.8 170.5 L832 168.1 M126.8 685.4 L154 682.9 L180.3 680.1 L203.7 677.2 L226.2 674 L246.9 670.7 L266.5 667 L285.3 663 L302.2 658.9 L318.1 654.5 L333.1 649.7 L347.2 644.6 L361.3 638.8 L373.4 633.1 L385.6 626.6 L396.9 619.7 L407.2 612.6 L416.6 605.2 L426 596.9 L433.5 589.3 L441 580.7 L447.5 572 L453.1 563.4 L458.8 553.6 L464.4 542.1 L469.1 531.2 L473.8 518.9 L480.3 500.3 L486.9 480.2 L497.2 445.9 L515 382.5 L522.5 356.6 L530 332.6 L537.5 311 L542.2 299 L546.9 288.1 L551.6 278.2 L556.3 269.4 L561 261.6 L566.6 253.4 L571.3 247.4 L576.9 241.1 L583.5 234.8 L591 228.8 L599.4 223.1 L607.9 218.3 L617.2 213.8 L628.5 209.2 L640.7 205 L655.7 200.5 L681 193.6 L710.1 186.1 L727.9 181.9 L744.8 178.5 L762.6 175.6 L782.3 172.9 L804.8 170.5 L832 168.1 M138.8 684.3 L164.1 681.8 L188.5 679.1 L211 676.2 L232.6 673 L252.3 669.7 L271 666.1 L288.8 662.2 L305.7 657.9 L320.7 653.6 L335.8 648.8 L349.8 643.6 L363 638 L375.1 632.2 L386.4 626.1 L397.7 619.1 L408 611.9 L417.4 604.5 L425.8 597 L433.3 589.5 L440.8 580.8 L447.4 572.2 L453 563.6 L458.6 553.8 L464.3 542.4 L468.9 531.5 L473.6 519.2 L480.2 500.6 L486.8 480.6 L497.1 446.3 L515.9 379.6 L522.4 357 L529.9 332.9 L537.4 311.3 L542.1 299.2 L546.8 288.3 L551.5 278.4 L556.2 269.6 L560.9 261.7 L566.5 253.5 L571.2 247.5 L576.8 241.2 L583.4 234.9 L590.9 228.8 L599.3 223.1 L607.8 218.3 L617.2 213.8 L628.4 209.2 L640.6 205 L655.6 200.4 L680.9 193.5 L710 186.1 L727.8 181.9 L744.7 178.5 L762.6 175.6 L782.2 172.9 L804.8 170.5 L832 168.1 M150.7 683.1 L175.1 680.6 L198.5 677.8 L220 674.8 L240.7 671.6 L260.3 668.1 L278.1 664.5 L295 660.6 L310.9 656.4 L325.9 652 L340 647.2 L353.1 642.2 L366.2 636.5 L377.5 630.9 L388.7 624.6 L399 618.2 L409.3 610.9 L417.8 604.1 L426.2 596.6 L433.7 589 L441.2 580.3 L447.8 571.5 L453.4 562.9 L459 553 L464.6 541.5 L469.3 530.5 L474.9 515.6 L481.5 496.7 L487.1 479.4 L497.4 445.1 L515.2 381.7 L522.7 355.9 L530.2 331.9 L537.7 310.4 L542.4 298.4 L547.1 287.6 L551.8 277.8 L556.5 269 L561.1 261.2 L566.8 253.1 L571.5 247.1 L577.1 240.8 L584.6 233.8 L592.1 227.9 L600.5 222.3 L608.9 217.6 L618.3 213.2 L629.6 208.7 L641.7 204.6 L656.7 200.1 L683 192.9 L711.1 185.8 L728.9 181.7 L745.8 178.3 L763.6 175.4 L782.3 172.9 L804.8 170.5 L832 168.1 M162.6 681.8 L189.8 678.7 L215.1 675.4 L238.6 671.8 L260.1 668 L280.7 663.8 L299.5 659.4 L317.3 654.5 L333.2 649.4 L349.2 643.6 L363.2 637.7 L376.4 631.3 L389.5 624.1 L401.7 616.2 L412.9 607.9 L423.2 599.2 L432.6 590 L438.2 583.7 L443.9 576.7 L449.5 568.9 L454.2 561.5 L458.9 553.1 L463.5 543.7 L468.2 533 L472 523.5 L482.3 494.2 L491.7 464.5 L500.1 435.6 L517.9 372.1 L527.3 340.8 L532 326.5 L536.7 313.1 L541.4 300.9 L545.1 291.9 L549.8 281.6 L554.5 272.5 L559.2 264.3 L564.8 255.7 L570.4 248.2 L576 241.8 L582.6 235.4 L589.2 229.9 L597.6 224 L606 219 L616.4 213.9 L627.6 209.3 L639.8 205.1 L653.9 200.8 L671.7 195.8 L697.9 189 L714.8 184.8 L729.8 181.4 L743.8 178.6 L757.9 176.2 L772.9 174.1 L789.8 172.1 L832 168.1 M174.6 680.3 L200.8 677.1 L225.2 673.7 L247.7 670.1 L268.3 666.2 L288 661.9 L305.9 657.5 L322.7 652.6 L338.7 647.3 L353.7 641.6 L367.8 635.4 L380.9 628.7 L393.1 621.6 L404.3 614.2 L415.6 605.6 L425 597.4 L434.3 587.9 L440 581.4 L445.6 574.2 L450.3 567.5 L455 559.9 L459.7 551.4 L463.4 543.8 L468.1 533.2 L471.8 523.6 L482.2 494.3 L491.5 464.7 L500 435.8 L517.8 372.3 L527.2 341 L531.9 326.6 L536.6 313.2 L541.2 300.9 L545 291.9 L549.7 281.6 L554.4 272.4 L559.1 264.2 L564.7 255.6 L570.3 248.1 L575.9 241.7 L582.5 235.2 L589.1 229.7 L597.5 223.8 L606 218.8 L616.3 213.8 L627.5 209.1 L639.7 204.9 L653.8 200.5 L671.6 195.6 L696.9 189 L714.7 184.7 L729.7 181.3 L743.8 178.5 L757.9 176.2 L772.9 174 L789.8 172 L832 168.1 M186.5 678.5 L210.9 675.4 L234.3 671.9 L255.8 668.2 L275.5 664.3 L294.2 660.1 L311.1 655.7 L328 650.6 L342.9 645.4 L357 639.8 L371.1 633.4 L383.2 627.1 L395.4 619.8 L406.6 612.1 L417 604.1 L426.3 595.7 L435.7 586 L441.3 579.4 L446.9 572 L451.6 565 L456.3 557.2 L461 548.4 L464.7 540.6 L468.5 531.9 L472.2 522.3 L481.6 495.7 L491 466.2 L499.4 437.5 L518.1 370.8 L526.6 342.6 L531.2 328.1 L535.9 314.6 L540.6 302.1 L544.4 293 L549 282.6 L553.7 273.3 L558.4 264.9 L564 256.2 L569.7 248.6 L575.3 242 L581.8 235.5 L588.4 229.9 L596.8 223.9 L605.3 218.8 L614.6 214.1 L625.9 209.4 L638 205 L652.1 200.7 L669 196 L692.4 189.9 L710.2 185.5 L726.1 181.9 L741.1 178.9 L755.1 176.5 L771.1 174.2 L787.9 172.2 L808.5 170.1 L832 168.1 M198.4 676.5 L221.9 673.3 L244.4 669.7 L265 665.9 L283.7 662 L301.5 657.7 L318.4 653 L334.3 647.9 L348.4 642.8 L362.4 636.9 L375.6 630.6 L387.7 623.9 L399 616.9 L409.3 609.6 L419.6 601.3 L429 592.6 L437.4 583.5 L443 576.7 L447.7 570.3 L452.4 563.2 L457.1 555.3 L461.8 546.3 L465.5 538.2 L469.3 529.4 L473 519.6 L482.4 492.7 L491.8 463 L500.2 434.1 L518 370.7 L526.4 342.4 L531.1 327.9 L535.8 314.3 L540.5 301.9 L544.2 292.7 L548.9 282.3 L553.6 272.9 L558.3 264.6 L563.9 255.8 L569.6 248.2 L575.2 241.6 L580.8 235.9 L587.4 230.2 L595.8 224 L604.2 218.9 L613.6 214.1 L623.9 209.6 L635.2 205.5 L648.3 201.3 L664.2 196.8 L684.8 191.4 L705.4 186.3 L721.4 182.7 L737.3 179.5 L752.3 176.9 L769.2 174.4 L787 172.3 L807.6 170.2 L832 168.1 M210.4 674.2 L231.9 671 L252.6 667.6 L272.2 663.8 L290.1 659.8 L306.9 655.5 L322.9 650.9 L337.9 646 L351.9 640.6 L365.1 635 L378.2 628.5 L389.4 622.2 L400.7 615.1 L411 607.6 L421.3 599.1 L429.8 591.1 L438.2 581.9 L443.8 574.9 L448.5 568.5 L453.2 561.2 L457.9 553.1 L462.6 543.9 L466.3 535.7 L470.1 526.6 L473.8 516.7 L483.2 489.6 L491.6 462.8 L500.1 433.8 L517.9 370.4 L526.3 342.1 L531 327.5 L535.7 314 L540.4 301.5 L544.1 292.3 L548.8 281.8 L553.5 272.4 L558.2 264 L563.8 255.2 L569.4 247.6 L575.1 241 L580.7 235.3 L587.3 229.5 L594.8 224 L603.2 218.7 L612.6 213.8 L622.9 209.3 L634.1 205.1 L647.3 200.9 L663.2 196.4 L682 191.5 L701.6 186.8 L718.5 183 L734.5 179.8 L750.4 177 L766.3 174.7 L785.1 172.5 L806.7 170.3 L832 168.1 M222.3 671.6 L242.9 668.3 L262.6 664.8 L281.4 660.9 L298.3 656.9 L314.2 652.6 L329.2 648 L343.3 643.1 L357.4 637.5 L369.6 632 L381.7 625.7 L393 619.2 L404.3 611.7 L414.6 603.9 L424 595.8 L432.4 587.5 L439.9 579 L445.5 571.8 L450.2 565 L454.9 557.5 L458.7 550.8 L463.3 541.4 L467.1 533 L470.9 523.7 L474.6 513.6 L484 486.3 L492.4 459.2 L499.9 433.4 L517.8 369.9 L526.2 341.6 L534.6 316 L539.3 303.3 L543.1 293.9 L547.8 283.2 L552.5 273.5 L557.1 264.9 L562.8 255.9 L568.4 248 L574 241.2 L579.7 235.4 L586.2 229.5 L593.7 223.8 L602.2 218.4 L610.6 213.9 L620.9 209.2 L632.2 204.9 L644.4 200.9 L658.4 196.8 L675.3 192.5 L695 187.7 L714.7 183.4 L730.7 180.2 L748.5 177.2 L765.4 174.8 L784.1 172.6 L806.6 170.3 L832 168.1 M234.2 668.8 L253.9 665.4 L272.6 661.8 L290.4 657.8 L306.4 653.8 L321.4 649.5 L336.3 644.6 L349.5 639.7 L362.6 634.2 L374.8 628.4 L386 622.3 L397.2 615.5 L407.6 608.3 L416.9 600.9 L426.3 592.6 L433.8 585 L441.3 576.3 L446 570.2 L450.7 563.4 L455.3 555.8 L459.1 549 L463.8 539.5 L467.5 531 L475 511.5 L484.4 484.1 L492.8 456.9 L500.3 431.1 L518.1 367.7 L526.5 339.5 L535 314.1 L539.7 301.4 L543.4 292.1 L548.1 281.5 L552.8 271.9 L557.5 263.4 L563.1 254.4 L567.8 247.9 L573.4 241 L579 235 L585.6 229 L593.1 223.3 L601.5 217.8 L610.9 212.8 L620.2 208.5 L630.5 204.5 L642.7 200.5 L656.8 196.4 L672.7 192.3 L692.4 187.7 L711.1 183.6 L729.8 180.1 L745.8 177.4 L763.6 175 L783.2 172.6 L805.7 170.4 L832 168.1 M246.2 665.8 L264.9 662.3 L281.8 658.8 L298.6 654.8 L313.6 650.8 L327.7 646.5 L341.8 641.7 L354.9 636.5 L367.1 631.2 L378.3 625.6 L389.6 619.2 L399.9 612.7 L410.2 605.3 L419.6 597.7 L428 589.9 L435.5 582.1 L443 573.1 L447.7 566.8 L452.4 559.7 L457.1 551.7 L460.8 544.6 L464.5 536.8 L468.3 528.1 L475.8 508.3 L484.2 483.5 L492.7 456.4 L500.2 430.6 L517 370.4 L525.5 341.9 L533.9 316.1 L538.6 303.2 L542.3 293.7 L547 282.8 L551.7 273 L556.4 264.2 L562 255 L567.7 247 L573.3 240.1 L578.9 234.1 L585.5 228.1 L593 222.3 L600.5 217.4 L609.8 212.3 L619.2 208 L629.5 203.9 L641.7 199.8 L654.8 196 L669.8 192.1 L689.5 187.6 L708.2 183.7 L727 180.3 L743.9 177.6 L762.6 175 L783.2 172.6 L806.7 170.3 L832 168.1 M258.1 662.7 L275.9 659.1 L291.9 655.5 L306.9 651.7 L321.9 647.4 L335.9 642.8 L349.1 637.9 L361.2 632.9 L372.5 627.6 L383.7 621.7 L394.1 615.5 L404.4 608.6 L413.8 601.6 L422.2 594.4 L430.6 586.3 L438.1 578.1 L444.7 569.9 L449.4 563.3 L453.1 557.5 L457.8 549.4 L461.6 542.1 L465.3 534.1 L469.1 525.3 L476.6 505.1 L485 480.1 L493.5 452.8 L501 426.8 L516.9 370 L525.3 341.4 L533.8 315.5 L538.5 302.6 L542.2 293 L546.9 282.1 L551.6 272.3 L556.3 263.5 L561.9 254.2 L566.6 247.5 L572.2 240.3 L577.8 234.2 L584.4 228.1 L591.9 222.1 L599.4 217.1 L607.9 212.4 L618.2 207.5 L628.5 203.4 L639.7 199.5 L652.9 195.7 L667.9 191.8 L684.7 188 L703.5 184.2 L721.3 180.9 L741 177.8 L759.8 175.3 L781.3 172.8 L805.7 170.4 L832 168.1 M270 659.5 L285.9 656.1 L301.9 652.2 L315.9 648.3 L330 644 L343.1 639.4 L355.3 634.6 L366.5 629.7 L377.7 624.1 L388 618.4 L398.3 612 L407.7 605.4 L417.1 598 L425.5 590.6 L433 583.1 L439.5 575.6 L446.1 567.2 L450.8 560.4 L454.5 554.3 L459.2 545.9 L463 538.4 L466.7 530.1 L470.5 521 L477.9 500.4 L485.4 478 L493.9 450.6 L517.3 367.8 L525.7 339.4 L534.1 313.7 L541.6 293.7 L546.3 282.6 L551 272.7 L555.7 263.7 L561.3 254.3 L566 247.5 L571.6 240.3 L577.2 234 L583.8 227.8 L591.3 221.8 L598.8 216.7 L607.2 211.9 L616.6 207.4 L626.9 203.2 L638.1 199.3 L651.2 195.4 L666.2 191.6 L683.1 187.8 L701.8 184.1 L721.5 180.7 L740.2 177.8 L759.8 175.2 L781.4 172.8 L805.7 170.4 L832 168.1 M282 656.3 L297 652.8 L311.9 648.8 L325.1 644.9 L338.2 640.5 L350.4 635.9 L361.6 631.2 L372.8 625.9 L383.2 620.5 L393.5 614.4 L402.8 608.2 L411.3 602 L419.7 595.1 L427.2 588.2 L434.7 580.5 L441.2 572.9 L447.8 564.1 L452.5 557 L456.2 550.7 L460 543.8 L463.7 536.1 L470.3 520.7 L478.7 497.5 L486.2 474.9 L493.7 450.4 L517.1 367.6 L525.6 339.1 L534 313.4 L541.5 293.3 L546.2 282.2 L550.9 272.2 L555.6 263.3 L560.2 255.3 L564.9 248.3 L570.5 240.9 L576.2 234.5 L582.7 228.1 L590.2 221.9 L597.7 216.8 L606.2 211.9 L615.5 207.3 L625.8 203 L637.1 199.1 L649.3 195.4 L663.3 191.8 L680.2 188 L698 184.5 L717.7 181.1 L737.3 178.1 L757.9 175.4 L780.4 172.9 L804.8 170.5 L832 168.1 M293.9 652.9 L308 649.3 L321.1 645.5 L333.3 641.6 L345.5 637.2 L356.7 632.7 L367.9 627.7 L378.3 622.5 L387.6 617.3 L397 611.5 L406.4 605.1 L414.8 598.6 L422.3 592.2 L429.8 585 L436.4 578 L442.9 570.1 L448.6 562.4 L453.3 555.2 L457 548.7 L460.8 541.6 L464.5 533.8 L471.1 518.1 L478.6 497.3 L486.1 474.7 L493.6 450.3 L517 367.5 L525.4 339 L533.9 313.2 L541.4 293 L546.1 281.9 L550.7 271.9 L555.4 262.9 L560.1 255 L564.8 247.9 L570.4 240.5 L576.1 234.1 L582.6 227.6 L590.1 221.5 L597.6 216.3 L606 211.4 L615.4 206.9 L625.7 202.6 L637 198.7 L650.1 194.8 L663.2 191.5 L679.2 187.9 L697.9 184.3 L716.7 181.1 L737.3 178.1 L757.9 175.4 L781.3 172.8 L805.7 170.4 L832 168.1 M305.8 649.2 L319 645.5 L331.1 641.6 L342.4 637.7 L353.7 633.3 L364 628.9 L374.3 623.9 L383.7 618.9 L393 613.4 L402.4 607.2 L410.9 601.1 L418.4 595 L425.9 588.2 L432.4 581.7 L439 574.3 L444.6 567.2 L450.3 559.2 L454 553.3 L457.8 546.7 L461.5 539.5 L465.3 531.5 L471.8 515.4 L479.3 494.5 L486.8 471.7 L494.3 447.1 L516.8 367.4 L525.3 338.8 L533.7 313 L541.2 292.8 L545.9 281.6 L550.6 271.6 L555.3 262.6 L560 254.6 L564.7 247.5 L570.3 240.1 L575.9 233.7 L581.6 228.1 L589.1 221.8 L596.6 216.6 L605 211.6 L613.4 207.4 L623.8 203 L635 199.1 L648.1 195.1 L662.2 191.5 L679.1 187.8 L696 184.5 L714.7 181.4 L735.4 178.3 L756.9 175.5 L780.4 172.9 L805.7 170.4 L832 168.1 M317.8 645 L329.9 641.2 L341.2 637.3 L351.5 633.4 L361.8 629 L371.1 624.6 L380.5 619.8 L389.9 614.5 L398.3 609.2 L406.7 603.3 L414.2 597.6 L421.7 591.2 L429.2 584.1 L435.8 577.2 L441.4 570.6 L447 563.1 L451.7 556.2 L455.4 550 L459.2 543.2 L465.7 529.6 L472.3 513.3 L480.7 489.5 L487.3 469.4 L494.8 444.7 L516.3 368.4 L524.8 339.8 L533.2 313.8 L540.7 293.5 L545.4 282.2 L550 272.1 L554.7 263 L559.4 254.9 L564.1 247.8 L569.7 240.2 L575.3 233.8 L580.9 228.2 L588.4 221.8 L595.9 216.6 L604.4 211.6 L613.7 206.9 L624 202.7 L635.3 198.8 L647.5 195.1 L661.5 191.5 L677.4 188 L695.2 184.6 L714.9 181.3 L735.5 178.3 L757 175.5 L780.5 172.9 L805.7 170.4 L832 168.1 M329.7 640.1 L340.9 636.2 L351.2 632.2 L361.6 627.9 L370.9 623.5 L380.3 618.7 L388.7 613.9 L397.2 608.7 L404.7 603.6 L412.2 598 L419.7 591.8 L426.2 585.9 L432.8 579.3 L438.4 573 L444 566 L448.7 559.5 L453.4 552.2 L457.1 545.8 L460.9 538.7 L467.4 524.4 L473.1 510.1 L481.5 486 L488.1 465.8 L495.6 440.9 L516.2 367.9 L523.7 342.3 L532.1 315.9 L539.6 295.3 L544.3 283.8 L549 273.4 L553.7 264.2 L558.3 255.9 L563 248.6 L568.6 240.9 L574.3 234.3 L579.9 228.6 L587.4 222.2 L594.9 216.8 L603.3 211.8 L612.7 207.1 L622.1 203.2 L633.3 199.2 L645.5 195.6 L659.5 191.9 L675.5 188.4 L693.3 184.9 L713 181.6 L733.6 178.5 L756.1 175.6 L779.5 173 L804.8 170.4 L832 168.1 M341.6 634 L351.9 630 L361.3 626.1 L370.7 621.7 L379.1 617.4 L387.6 612.7 L395.1 608.1 L402.6 603.2 L410.1 597.7 L416.6 592.5 L423.2 586.8 L429.8 580.5 L435.4 574.5 L441 567.9 L445.7 561.8 L450.4 555.1 L455.1 547.5 L461.6 535.3 L468.2 520.7 L474.8 503.6 L482.3 482 L488.8 461.5 L495.4 439.8 L516 366.9 L523.5 341.3 L531.9 315 L539.4 294.3 L544.1 282.9 L548.8 272.5 L553.5 263.3 L558.2 255.1 L562.9 247.8 L568.5 240.2 L573.2 234.7 L578.8 228.9 L585.4 223.1 L592.9 217.6 L601.3 212.4 L609.8 208.1 L619.1 204.1 L631.3 199.7 L644.5 195.7 L658.5 192.1 L675.4 188.3 L693.2 184.9 L712.9 181.6 L733.5 178.5 L756 175.6 L779.5 173 L804.8 170.5 L832 168.1 M391.1 607.6 L402.3 600.3 L413.6 591.9 L423.9 583.1 L433.3 573.8 L440.8 565.2 L448.3 555.2 L454.9 544.9 L461.4 532.7 L467.1 520.5 L471.8 508.8 L478.3 490.7 L484.9 471.2 L496.1 434.5 L514.9 368.4 L522.4 342.8 L529.9 319 L537.4 297.8 L542.1 286 L545.9 277.3 L550.5 267.5 L555.2 258.7 L559.9 251 L564.6 244.1 L570.2 237 L575.9 230.9 L582.4 224.8 L589.9 219 L597.5 214.2 L606.8 209.2 L617.2 204.6 L628.4 200.5 L641.5 196.5 L655.6 192.8 L672.5 188.9 L690.3 185.4 L710 182 L731.6 178.8 L754.1 175.9 L778.5 173.1 L804.8 170.5 L832 168.1 M450.7 546.8 L454.5 540.8 L458.2 534.2 L462 527 L465.7 519 L472.3 502.9 L479.8 482.1 L486.3 462.4 L493.8 438.3 L516.3 360.2 L523.8 335.2 L531.3 312.2 L538.8 291.8 L542.5 282.7 L547.2 272.3 L551 264.8 L555.6 256.3 L560.3 248.8 L565 242.2 L570.6 235.3 L575.3 230.3 L582.8 223.6 L590.3 218.1 L597.8 213.4 L607.2 208.6 L617.5 204.2 L628.7 200.2 L641.8 196.3 L655.9 192.7 L672.7 188.9 L691.5 185.2 L711.1 181.9 L731.7 178.8 L754.2 175.8 L778.6 173.1 L804.8 170.4 L832 168.1 M469.3 503.6 L478.6 478.7 L488 450.9 L497.4 420.5 L515.2 359.3 L521.8 337.5 L529.2 314.4 L536.7 293.7 L541.4 282.3 L545.2 273.9 L549.9 264.4 L554.6 255.9 L559.2 248.5 L564.9 240.7 L569.5 235.1 L576.1 228.4 L583.6 222 L590.2 217.4 L598.6 212.4 L608 207.9 L618.3 203.7 L629.5 199.8 L642.7 196 L657.6 192.2 L674.5 188.5 L693.3 184.9 L712.9 181.6 L733.6 178.5 L756.1 175.6 L779.5 173 L804.8 170.4 L832 168.1 M492.5 427.9 L500.9 400.5 L515 353.5 L522.5 329.5 L527.2 315.4 L531.9 302.2 L535.6 292.4 L540.3 281 L545 270.8 L549.7 261.7 L555.3 252 L560 245.1 L564.7 239 L570.3 232.6 L576 227.2 L581.6 222.5 L589.1 217.3 L596.6 213 L606 208.4 L615.3 204.6 L626.6 200.7 L638.8 197 L651.9 193.6 L666.9 190.1 L683.8 186.6 L701.6 183.4 L720.4 180.4 L740.1 177.6 L760.7 175.1 L783.2 172.6 L832 168.1 M512.7 352.4 L523 320.9 L527.7 307.6 L532.4 295.3 L537 283.9 L540.8 275.5 L545.5 266 L550.2 257.5 L553.9 251.4 L558.6 244.6 L562.3 239.8 L567.9 233.4 L573.6 227.9 L578.2 224 L583.9 219.9 L591.3 215.2 L599.8 210.9 L608.2 207.1 L617.6 203.6 L627.9 200.2 L640 196.6 L652.2 193.5 L665.3 190.4 L680.3 187.3 L712.1 181.7 L747.7 176.7 L788 172.1 L832 168.1 M530.3 293.6 L537.8 276.5 L545.3 261.9 L552.8 249.7 L557.5 243.3 L562.2 237.6 L565.9 233.5 L570.6 229 L574.3 225.9 L580 221.6 L586.5 217.3 L592.1 214.2 L604.3 208.5 L612.8 205.1 L622.1 201.9 L632.4 198.7 L642.7 195.9 L667.1 190 L695.2 184.5 L724.2 179.9 L757 175.5 L792.6 171.6 L832 168.1 M541.4 263.9 L545.1 257.6 L549.8 250.4 L556.4 241.8 L563.9 233.5 L571.4 226.9 L576.1 223.3 L581.7 219.5 L592 213.8 L598.6 210.7 L605.1 207.9 L619.2 202.8 L637 197.4 L658.6 191.9 L682 187 L707.3 182.5 L734.5 178.4 L764.5 174.6 L796.3 171.3 L832 168.1 M543.1 256 L550.6 245.7 L558.1 237.1 L562.8 232.6 L567.5 228.5 L575.9 222.3 L586.2 216.2 L597.5 210.8 L610.6 205.7 L626.6 200.4 L645.3 195.2 L665.9 190.3 L688.5 185.8 L712.8 181.6 L739.1 177.8 L767.2 174.3 L798.2 171.1 L832 168.1 M541.7 253 L549.2 243.9 L557.6 235.2 L565.1 228.9 L569.8 225.4 L575.4 221.8 L586.7 215.5 L598.8 210.1 L613.8 204.5 L629.7 199.4 L648.5 194.4 L669 189.6 L691.5 185.2 L714.9 181.3 L741.1 177.5 L769.2 174.1 L799.2 171 L832 168.1 M538.7 252 L548.1 241.9 L556.5 234.2 L565.9 227 L576.2 220.6 L587.4 214.8 L600.6 209.2 L615.5 203.8 L632.4 198.6 L651.1 193.7 L671.8 189 L694.2 184.7 L717.7 180.8 L743 177.3 L770.1 174 L800.1 170.9 L832 168.1 M532.9 253.8 L542.3 244.5 L552.6 235.6 L562.9 228 L573.2 221.8 L585.4 215.6 L598.5 209.9 L614.5 204.2 L631.3 198.9 L650.1 194 L670.7 189.3 L693.2 184.9 L716.6 181 L742 177.4 L770.1 174 L800.1 170.9 L832 168.1 M496 288.5 L501.7 281.6 L507.3 275.2 L513.8 268.3 L521.3 260.8 L528.8 253.7 L537.2 246.2 L544.7 240 L550.3 235.7 L556.9 231.1 L563.4 226.9 L575.6 220.1 L589.6 213.5 L606.5 206.9 L626.1 200.5 L648.6 194.3 L672.9 188.8 L699.1 183.8 L728.1 179.3 L759.9 175.2 L794.5 171.4 L832 168.1 M496.8 283.9 L502.4 277.1 L508 270.7 L513.6 264.9 L520.2 258.6 L526.7 252.7 L534.2 246.5 L541.7 240.7 L549.2 235.4 L556.7 230.5 L563.2 226.5 L577.3 219.1 L593.2 212 L610.1 205.6 L629.7 199.4 L652.2 193.4 L675.6 188.2 L701.8 183.4 L729.9 179 L760.8 175.1 L794.5 171.4 L832 168.1 M508.7 268.6 L519.9 257.4 L531.2 247.8 L544.3 238 L558.3 229 L572.4 221.3 L587.4 214.4 L604.3 207.7 L622.1 201.7 L641.7 196.1 L662.4 191.1 L684.8 186.4 L710.1 182 L737.3 178 L766.4 174.4 L798.2 171.1 L832 168.1 M520.6 256.4 L531.9 246.8 L543.1 238.5 L556.3 230.1 L569.4 222.8 L583.5 216.1 L598.5 209.8 L614.4 204.1 L632.2 198.7 L651 193.7 L671.6 189.1 L694.1 184.7 L717.6 180.9 L742.9 177.3 L770.1 174 L800.1 170.9 L832 168.1 M532.6 246.2 L543.8 238 L555 230.8 L568.1 223.4 L581.2 217 L595.2 211.1 L610.2 205.6 L626.1 200.5 L643 195.8 L661.7 191.2 L681.3 187.1 L701.9 183.4 L724.4 179.8 L748.7 176.5 L774 173.6 L802 170.7 L832 168.1 M544.5 237.5 L555.7 230.3 L567 224 L579.1 218 L592.2 212.3 L606.3 206.9 L620.3 202.2 L635.3 197.8 L652.2 193.4 L670 189.4 L688.7 185.7 L708.4 182.3 L729.9 179 L753.3 176 L777.7 173.2 L803.9 170.5 L832 168.1 M556.4 229.9 L567.7 223.6 L578.9 218.1 L591.1 212.8 L603.3 208 L617.3 203.2 L631.4 198.9 L646.4 194.9 L662.3 191.1 L679.2 187.5 L697.9 184 L716.7 181 L737.3 178 L758.9 175.3 L781.4 172.8 L805.7 170.4 L832 168.1" fill="none" stroke="#0000ff" stroke-width="1.9" stroke-linejoin="round"/>
</g>
<g stroke="#000" fill="none" stroke-linecap="butt" stroke-linejoin="round">
<path d="M1041.4 451.6 H1712" stroke-width="4.4"/>
<path d="M1693.2 445.2 L1714.5 451.6 L1696.6 460" stroke-width="4"/>
<path d="M1234 119 V716.6" stroke-width="3.7"/>
<path d="M1224.5 139.5 L1233.8 116.5 L1242.7 141.5" stroke-width="3.4"/>
<path d="M1114.5 591.7 L1116.6 588.4 L1119.1 586.2 L1121.5 584 L1123.8 581.7 L1126.1 579.3 L1128.4 576.9 L1130.6 574.5 L1132.8 572 L1134.9 569.5 L1137 567 L1139.1 564.4 L1141.1 561.8 L1143.1 559.1 L1145 556.5 L1146.9 553.8 L1148.8 551 L1150.6 548.2 L1152.4 545.4 L1154.2 542.6 L1155.9 539.8 L1157.6 536.9 L1159.3 534 L1161 531 L1162.6 528.1 L1164.2 525.1 L1165.8 522.1 L1167.4 519.1 L1168.9 516.1 L1170.4 513 L1171.9 510 L1173.4 506.9 L1174.9 503.8 L1176.3 500.7 L1177.8 497.6 L1179.2 494.5 L1180.6 491.3 L1182 488.2 L1183.4 485 L1184.8 481.8 L1186.2 478.7 L1187.5 475.5 L1188.9 472.3 L1190.2 469.1 L1191.6 466 L1193 462.8 L1194.3 459.6 L1195.7 456.4 L1197 453.2 L1198.4 450.1 L1199.7 446.9 L1201.1 443.7 L1202.5 440.6 L1203.9 437.4 L1205.2 434.3 L1206.6 431.2 L1208 428 L1209.5 424.9 L1210.9 421.8 L1212.3 418.8 L1213.8 415.7 L1215.3 412.6 L1216.8 409.6 L1218.3 406.6 L1219.8 403.6 L1221.4 400.6 L1222.9 397.7 L1224.5 394.7 L1226.2 391.8 L1227.8 388.9 L1229.5 386.1 L1231.2 383.2 L1232.9 380.4 L1234.6 377.7 L1236.4 374.9 L1238.3 372.2 L1240.1 369.5 L1242 366.9 L1243.9 364.2 L1245.9 361.7 L1247.9 359.1 L1249.9 356.6 L1252 354.1 L1254.1 351.7 L1256.2 349.3 L1258.4 346.9 L1260.7 344.6 L1263 342.4 L1265.3 340.1 L1267.7 338 L1270.1 335.8 L1272.6 333.7 L1275.1 331.7 L1277.7 329.7 L1280.3 327.7 L1282.9 325.8 L1285.6 323.9 L1288.3 322.1 L1291 320.2 L1293.8 318.5 L1296.6 316.7 L1299.5 315.1 L1302.4 313.4 L1305.3 311.8 L1308.2 310.2 L1311.2 308.6 L1314.2 307.1 L1317.2 305.6 L1320.3 304.2 L1323.3 302.8 L1326.4 301.4 L1329.6 300 L1332.7 298.7 L1335.9 297.4 L1339 296.1 L1342.2 294.9 L1345.4 293.7 L1348.7 292.5 L1351.9 291.3 L1355.2 290.2 L1358.4 289.1 L1361.7 288 L1365 286.9 L1368.3 285.9 L1371.6 284.9 L1374.9 283.9 L1378.2 282.9 L1381.5 282 L1384.8 281.1 L1388.1 280.2 L1391.4 279.3 L1394.8 278.4 L1398.1 277.6 L1401.4 276.7 L1404.7 275.9 L1408 275.1 L1411.4 274.3 L1414.7 273.6 L1418 272.8 L1421.3 272.1 L1424.6 271.4 L1427.9 270.7 L1431.3 270 L1434.6 269.4 L1437.9 268.7 L1441.2 268.1 L1444.5 267.5 L1447.8 266.9 L1451.2 266.3 L1454.5 265.7 L1457.8 265.1 L1461.1 264.6 L1464.4 264 L1467.8 263.5 L1471.1 263 L1474.4 262.5 L1477.7 262 L1481 261.5 L1484.4 261 L1487.7 260.6 L1491 260.1 L1494.3 259.7 L1497.6 259.2 L1501 258.8 L1504.3 258.4 L1507.6 258 L1510.9 257.6 L1514.2 257.2 L1517.6 256.8 L1520.9 256.4 L1524.2 256.1 L1527.5 255.7 L1530.9 255.3 L1534.2 255 L1537.5 254.7 L1540.8 254.3 L1544.2 254 L1547.5 253.7 L1550.8 253.3 L1554.1 253 L1557.5 252.7 L1560.8 252.4 L1564.1 252.1 L1567.5 251.8 L1570.8 251.5 L1574.1 251.2 L1577.5 250.9 L1580.8 250.6 L1584.1 250.3 L1587.5 250 L1590.8 249.7 L1594.1 249.4 L1597.5 249.1 L1600.8 248.8 L1604.1 248.5 L1607.5 248.2 L1610.8 247.9 L1614.2 247.6 L1617.5 247.3 L1621 247.5" stroke-width="4.7"/>
<path d="M1114.5 591.7 L1116.5 590.3 L1119.4 589.5 L1122.2 588.7 L1125.1 587.9 L1127.9 587 L1130.7 586.1 L1133.5 585.1 L1136.3 584.1 L1139.1 583.1 L1141.8 582 L1144.5 580.9 L1147.2 579.8 L1149.9 578.6 L1152.5 577.4 L1155.1 576.2 L1157.7 574.9 L1160.3 573.6 L1162.8 572.3 L1165.3 570.9 L1167.8 569.5 L1170.3 568.1 L1172.8 566.6 L1175.2 565.1 L1177.6 563.6 L1179.9 562 L1182.3 560.4 L1184.6 558.8 L1186.9 557.1 L1189.1 555.4 L1191.4 553.7 L1193.6 552 L1195.7 550.2 L1197.9 548.4 L1200 546.5 L1202.1 544.7 L1204.1 542.8 L1206.1 540.8 L1208.1 538.9 L1210.1 536.9 L1212 534.9 L1213.9 532.8 L1215.8 530.7 L1217.6 528.6 L1219.4 526.5 L1221.2 524.4 L1222.9 522.2 L1224.6 520 L1226.3 517.7 L1227.9 515.5 L1229.5 513.2 L1231.1 510.9 L1232.6 508.5 L1234.1 506.2 L1235.6 503.8 L1237 501.3 L1238.4 498.9 L1239.8 496.4 L1241.1 494 L1242.4 491.5 L1243.7 488.9 L1245 486.4 L1246.2 483.8 L1247.4 481.3 L1248.6 478.7 L1249.8 476.1 L1250.9 473.5 L1252 470.8 L1253.1 468.2 L1254.2 465.5 L1255.3 462.8 L1256.4 460.2 L1257.4 457.5 L1258.5 454.8 L1259.5 452.1 L1260.6 449.4 L1261.6 446.6 L1262.6 443.9 L1263.6 441.2 L1264.6 438.5 L1265.6 435.7 L1266.6 433 L1267.6 430.2 L1268.6 427.5 L1269.6 424.8 L1270.7 422 L1271.7 419.3 L1272.7 416.6 L1273.7 413.8 L1274.8 411.1 L1275.8 408.4 L1276.9 405.7 L1277.9 403 L1279 400.3 L1280.1 397.6 L1281.2 395 L1282.4 392.3 L1283.5 389.6 L1284.7 387 L1285.9 384.4 L1287.1 381.8 L1288.3 379.2 L1289.6 376.6 L1290.8 374 L1292.1 371.5 L1293.5 368.9 L1294.8 366.4 L1296.2 363.9 L1297.6 361.5 L1299.1 359 L1300.5 356.6 L1302 354.2 L1303.5 351.8 L1305.1 349.4 L1306.6 347.1 L1308.2 344.8 L1309.8 342.5 L1311.5 340.2 L1313.1 338 L1314.8 335.8 L1316.6 333.6 L1318.3 331.5 L1320.1 329.3 L1321.9 327.2 L1323.7 325.2 L1325.6 323.1 L1327.5 321.1 L1329.4 319.2 L1331.4 317.2 L1333.3 315.3 L1335.4 313.5 L1337.4 311.6 L1339.5 309.8 L1341.6 308.1 L1343.7 306.4 L1345.8 304.7 L1348 303 L1350.2 301.4 L1352.5 299.9 L1354.8 298.3 L1357.1 296.9 L1359.4 295.4 L1361.8 294 L1364.2 292.6 L1366.6 291.3 L1369.1 290.1 L1371.5 288.8 L1374.1 287.7 L1376.6 286.5 L1379.2 285.4 L1381.8 284.4 L1384.4 283.4 L1387.1 282.4 L1389.8 281.4 L1392.5 280.5 L1395.2 279.7 L1398 278.8 L1400.7 278 L1403.5 277.3 L1406.3 276.5 L1409.2 275.8 L1412 275.1 L1414.9 274.5 L1417.7 273.8 L1420.6 273.2 L1423.5 272.7 L1426.4 272.1 L1429.3 271.5 L1432.2 271 L1435.1 270.5 L1438 270 L1441 269.5 L1443.9 269.1 L1446.8 268.6 L1449.7 268.2 L1452.7 267.8 L1455.6 267.3 L1458.5 266.9 L1461.5 266.5 L1464.4 266.1 L1467.3 265.7 L1470.2 265.3 L1473.1 264.9 L1476 264.6 L1478.8 264.2 L1481.7 263.8 L1484.6 263.4 L1487.4 263 L1490.2 262.6 L1493 262.1 L1495.8 261.7 L1498.6 261.3 L1501.3 260.9 L1504 260.4 L1506.7 259.9 L1509.4 259.5 L1512.1 259 L1514.7 258.4 L1517.3 257.9 L1520 257" stroke-width="4.7"/>
<path d="M1194.8 533.7 L1216.1 530.8 L1216.1 552.1" stroke-width="3.4"/>
<path d="M1260.5 318 L1260.5 337.4 L1283.8 338.3" stroke-width="3.4"/>
<path d="M1114.8 440.2 V590" stroke-width="3.6" stroke-dasharray="4.2 12"/>
<path d="M1274.3 388.6 L1275.1 459.3" stroke-width="3.7" stroke-dasharray="3.2 5.4"/>
<path d="M1250.7 415.7 H1314" stroke-width="3.4" stroke-dasharray="10 7.8"/>
</g>
<g font-family="'Liberation Sans', Arial, Helvetica, sans-serif"><text transform="matrix(0.967 0 0 1.079 1196 177.9)" font-size="43" font-weight="bold" fill="#000">M</text>
<text transform="matrix(1.004 0 0 1.045 1510.688 499.1)" font-size="42" font-weight="bold" fill="#000">H</text>
<text transform="matrix(1.004 0 0 1.034 1098.987 431.2)" font-size="42" font-weight="bold" fill="#000">H</text>
<text transform="matrix(1.054 0 0 1.121 1130.746 439.6)" font-size="25" font-weight="normal" fill="#000">a</text>
<text transform="matrix(0.996 0 0 1.034 1269.213 503.8)" font-size="42" font-weight="bold" fill="#000">H</text>
<text transform="matrix(1.355 0 0 1.105 1298.891 512.5)" font-size="25" font-weight="normal" fill="#000">b</text>
<text transform="matrix(1.004 0 0 1.076 1612.688 244.9)" font-size="42" font-weight="bold" fill="#000">H</text>
<text transform="matrix(1.38 0 0 1.079 1642.32 252.6)" font-size="25" font-weight="normal" fill="#000">s</text>
<text transform="matrix(1.014 0 0 1.052 1325.259 429.9)" font-size="42" font-weight="bold" fill="#000">M</text>
<text transform="matrix(1.2 0 0 1.083 1359.1 429.983)" font-size="25" font-weight="normal" fill="#000">(</text>
<text transform="matrix(1.012 0 0 1.052 1370.163 429.9)" font-size="42" font-weight="bold" fill="#000">H</text>
<text transform="matrix(1.062 0 0 1.043 1401.438 437.6)" font-size="25" font-weight="normal" fill="#000">a</text>
<text transform="matrix(1.34 0 0 1.108 1416.18 428.75)" font-size="40" font-weight="bold" fill="#000">,</text>
<text transform="matrix(1.042 0 0 1.052 1440.875 429.9)" font-size="42" font-weight="bold" fill="#000">H</text>
<text transform="matrix(1.264 0 0 1.079 1471.373 437.6)" font-size="25" font-weight="normal" fill="#000">b</text>
<text transform="matrix(1.2 0 0 1.154 1489.9 430.229)" font-size="25" font-weight="normal" fill="#000">)</text></g>
<g font-family="'Liberation Sans', Arial, Helvetica, sans-serif"><text transform="matrix(0.872 0 0 1.03 -2.617 49.61)" font-size="64" font-weight="bold" fill="#000">(</text>
<text transform="matrix(0.986 0 0 1.011 17.829 50.7)" font-size="64" font-weight="bold" fill="#000">A</text>
<text transform="matrix(0.839 0 0 1.03 65.3 49.61)" font-size="64" font-weight="bold" fill="#000">)</text>
<text transform="matrix(0.833 0 0 1.02 962.2 49.34)" font-size="64" font-weight="bold" fill="#000">(</text>
<text transform="matrix(0.823 0 0 1.002 984.508 50.7)" font-size="64" font-weight="bold" fill="#000">B</text>
<text transform="matrix(0.833 0 0 1.02 1025.9 49.34)" font-size="64" font-weight="bold" fill="#000">)</text>
<text transform="matrix(0.839 0 0 1.015 14.583 820.605)" font-size="64" font-weight="bold" fill="#000">(</text>
<text transform="matrix(0.82 0 0 1.009 35.641 822.2)" font-size="64" font-weight="bold" fill="#000">C</text>
<text transform="matrix(0.833 0 0 1.015 76.6 820.605)" font-size="64" font-weight="bold" fill="#000">)</text></g>
</svg>
</body></html>
